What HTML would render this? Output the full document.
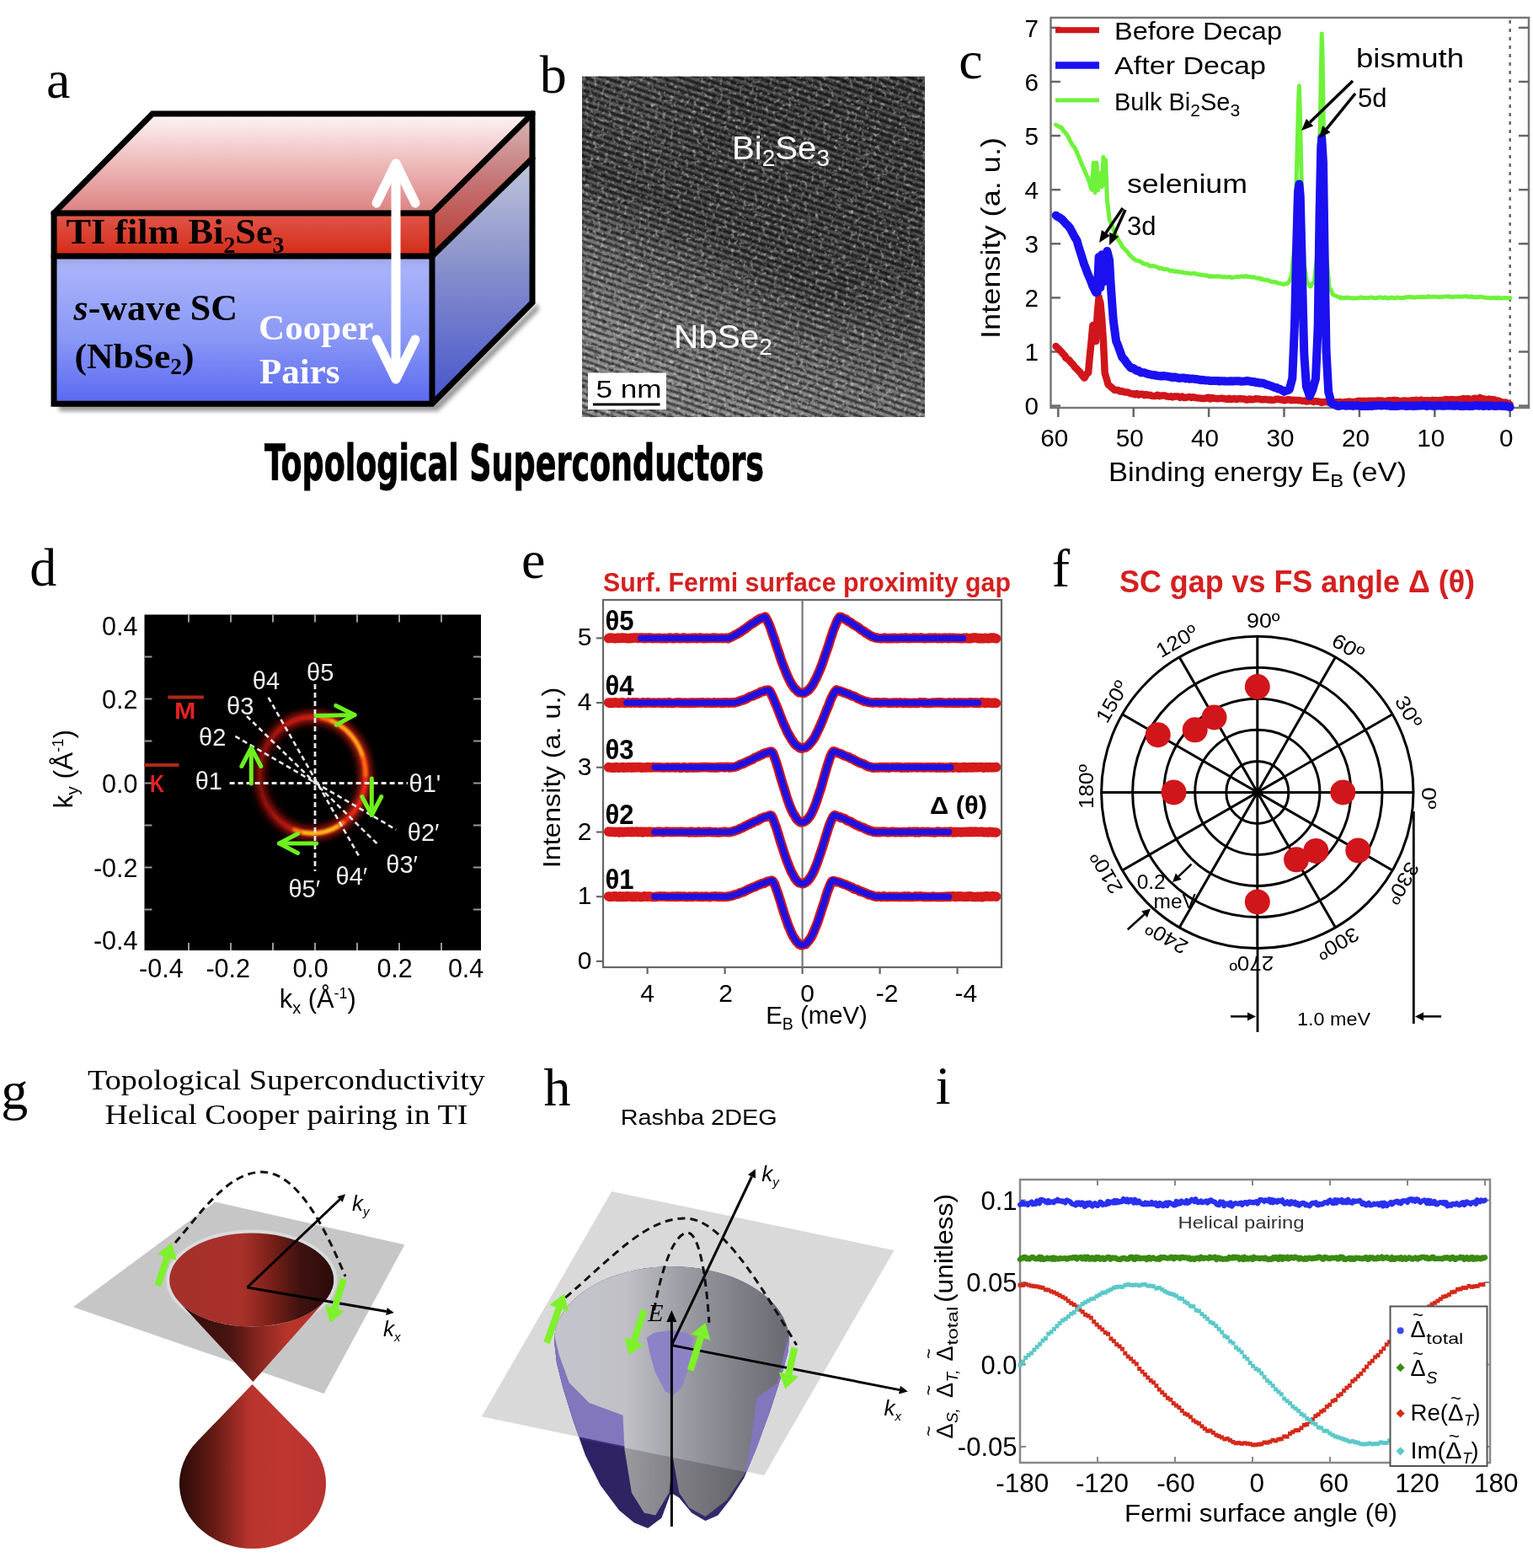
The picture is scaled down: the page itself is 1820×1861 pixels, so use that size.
<!DOCTYPE html>
<html><head><meta charset="utf-8"><title>Topological superconductivity figure</title>
<style>html,body{margin:0;padding:0;background:#fff;overflow:hidden;} svg{display:block;}</style></head>
<body><svg width="1820" height="1861" viewBox="0 0 1820 1861"><defs><linearGradient id="aTop" x1="0" y1="135" x2="0" y2="253" gradientUnits="userSpaceOnUse"><stop offset="0" stop-color="#fdf6f6"/><stop offset="0.35" stop-color="#f3cccc"/><stop offset="1" stop-color="#dc8080"/></linearGradient>
<linearGradient id="aRedF" x1="0" y1="253" x2="0" y2="304" gradientUnits="userSpaceOnUse"><stop offset="0" stop-color="#e0574a"/><stop offset="1" stop-color="#d42a18"/></linearGradient>
<linearGradient id="aRedS" x1="0" y1="140" x2="0" y2="300" gradientUnits="userSpaceOnUse"><stop offset="0" stop-color="#d8b4b4"/><stop offset="0.5" stop-color="#c47070"/><stop offset="1" stop-color="#b83a30"/></linearGradient>
<linearGradient id="aBlueF" x1="0" y1="304" x2="0" y2="479" gradientUnits="userSpaceOnUse"><stop offset="0" stop-color="#a0a8e8"/><stop offset="0.1" stop-color="#a8b2fa"/><stop offset="0.55" stop-color="#8a98f6"/><stop offset="1" stop-color="#5a68f2"/></linearGradient>
<linearGradient id="aBlueS" x1="0" y1="190" x2="0" y2="470" gradientUnits="userSpaceOnUse"><stop offset="0" stop-color="#c0c6da"/><stop offset="0.45" stop-color="#8890cc"/><stop offset="1" stop-color="#4a58cc"/></linearGradient><filter id="aSh" x="-10%" y="-10%" width="120%" height="130%"><feGaussianBlur stdDeviation="2.5"/></filter><linearGradient id="bG" x1="975" y1="190" x2="835" y2="455" gradientUnits="userSpaceOnUse"><stop offset="0" stop-color="#383838"/><stop offset="0.45" stop-color="#3c3c3c"/><stop offset="0.72" stop-color="#666666"/><stop offset="1" stop-color="#808080"/></linearGradient>
<radialGradient id="bR" cx="1080" cy="490" r="170" gradientUnits="userSpaceOnUse"><stop offset="0" stop-color="#7a7a7a" stop-opacity="0.6"/><stop offset="1" stop-color="#8a8a8a" stop-opacity="0"/></radialGradient>
<radialGradient id="bD" cx="760" cy="110" r="110" gradientUnits="userSpaceOnUse"><stop offset="0" stop-color="#5a5a5a" stop-opacity="0.4"/><stop offset="1" stop-color="#6a6a6a" stop-opacity="0"/></radialGradient>
<pattern id="bS" width="60" height="7.4" patternUnits="userSpaceOnUse" patternTransform="rotate(19)"><rect width="60" height="3" fill="#000" fill-opacity="0.45"/><rect y="4" width="60" height="2" fill="#fff" fill-opacity="0.14"/></pattern>
<filter id="bNw" x="0" y="0" width="1" height="1"><feTurbulence type="fractalNoise" baseFrequency="0.22" numOctaves="2" seed="3"/><feColorMatrix type="matrix" values="0 0 0 0 1  0 0 0 0 1  0 0 0 0 1  2.6 0 0 0 -1.35"/></filter>
<filter id="bNb" x="0" y="0" width="1" height="1"><feTurbulence type="fractalNoise" baseFrequency="0.2" numOctaves="2" seed="8"/><feColorMatrix type="matrix" values="0 0 0 0 0  0 0 0 0 0  0 0 0 0 0  -2.6 0 0 0 1.25"/></filter>
<clipPath id="bC"><rect x="691" y="90.5" width="407" height="404.5"/></clipPath><filter id="dBlur" x="-50%" y="-50%" width="200%" height="200%"><feGaussianBlur stdDeviation="4"/></filter>
<filter id="dBlur2" x="-50%" y="-50%" width="200%" height="200%"><feGaussianBlur stdDeviation="1.6"/></filter><linearGradient id="dRing" x1="300" y1="0" x2="440" y2="0" gradientUnits="userSpaceOnUse"><stop offset="0" stop-color="#7a0c06"/><stop offset="0.35" stop-color="#c81810"/><stop offset="1" stop-color="#f02a18"/></linearGradient><linearGradient id="gIn" x1="201" y1="0" x2="396" y2="0" gradientUnits="userSpaceOnUse"><stop offset="0" stop-color="#a4302a"/><stop offset="0.45" stop-color="#a8312a"/><stop offset="0.62" stop-color="#7a2018"/><stop offset="0.8" stop-color="#3e1210"/><stop offset="1" stop-color="#2a0c0a"/></linearGradient>
<linearGradient id="gOut" x1="215" y1="0" x2="385" y2="0" gradientUnits="userSpaceOnUse"><stop offset="0" stop-color="#2e0c0a"/><stop offset="0.35" stop-color="#4a1512"/><stop offset="0.55" stop-color="#8a2620"/><stop offset="0.75" stop-color="#b8352c"/><stop offset="1" stop-color="#b43228"/></linearGradient>
<linearGradient id="gLow" x1="213" y1="0" x2="387" y2="0" gradientUnits="userSpaceOnUse"><stop offset="0" stop-color="#2a0a08"/><stop offset="0.25" stop-color="#6a1c16"/><stop offset="0.48" stop-color="#b8342c"/><stop offset="0.7" stop-color="#c03630"/><stop offset="1" stop-color="#b83230"/></linearGradient><clipPath id="hSil"><path d="M657.9,1591.3 L658.4,1584.4 L659.6,1577.5 L661.8,1570.7 L664.7,1564 L668.5,1557.5 L673.1,1551.3 L678.5,1545.2 L684.6,1539.5 L691.3,1534 L698.8,1529 L706.8,1524.3 L715.4,1520 L724.5,1516.1 L734.1,1512.8 L744,1509.9 L754.3,1507.5 L764.8,1505.6 L775.6,1504.2 L786.4,1503.4 L797.4,1503.1 L808.3,1503.4 L819.2,1504.2 L829.9,1505.6 L840.5,1507.5 L850.8,1509.9 L860.7,1512.8 L870.3,1516.1 L879.4,1520 L888,1524.3 L896,1529 L903.4,1534 L910.2,1539.5 L916.3,1545.2 L921.7,1551.3 L926.2,1557.5 L930,1564 L933,1570.7 L935.1,1577.5 L936.4,1584.4 L936.9,1591.3 L935.4,1605.5 L928,1632.2 L914.6,1673.8 L898.3,1718.3 L883.4,1753.9 L868.6,1777.6 L852.3,1798.4 L837.4,1804.9 L821.1,1795.4 L806.3,1777.6 L796.5,1771.7 L785.5,1801.4 L769.2,1813.8 L752.9,1807.3 L735.1,1792.5 L712.8,1762.8 L695,1727.2 L680.2,1685.6 L668.3,1647.1 L660.9,1617.4 Z"/></clipPath><linearGradient id="hInG" x1="660" y1="0" x2="935" y2="0" gradientUnits="userSpaceOnUse"><stop offset="0" stop-color="#c4c4cc"/><stop offset="0.3" stop-color="#c0c0c6"/><stop offset="0.55" stop-color="#9c9ca4"/><stop offset="0.8" stop-color="#7e7e86"/><stop offset="1" stop-color="#6a6a74"/></linearGradient>
<linearGradient id="hPurp" x1="660" y1="0" x2="935" y2="0" gradientUnits="userSpaceOnUse"><stop offset="0" stop-color="#3a2a7c"/><stop offset="0.5" stop-color="#3e2e80"/><stop offset="1" stop-color="#4a3a90"/></linearGradient></defs><polygon points="70,478 517,478 638,360 640,368 520,488 70,488" fill="#9a9a9a" filter="url(#aSh)"/>
<polygon points="64,253 181,135 632,135 513,253" fill="url(#aTop)" stroke="none" stroke-width="1" />
<polygon points="513,253 632,135 632,188 513,304" fill="url(#aRedS)" stroke="none" stroke-width="1" />
<polygon points="513,304 632,188 632,359 513,479.3" fill="url(#aBlueS)" stroke="none" stroke-width="1" />
<rect x="64" y="253" width="449" height="51" fill="url(#aRedF)"/>
<rect x="64" y="304" width="449" height="175.3" fill="url(#aBlueF)"/>
<polygon points="64,253 181,135 632,135 632,359 513,479.3 64,479.3" fill="none" stroke="#000" stroke-width="7" stroke-linejoin="miter"/>
<polyline points="64,253 513,253 632,135" fill="none" stroke="#000" stroke-width="7" stroke-linejoin="round" stroke-linecap="round" stroke-linecap="butt"/>
<polyline points="64,304 513,304 632,188" fill="none" stroke="#000" stroke-width="7" stroke-linejoin="round" stroke-linecap="round" stroke-linecap="butt"/>
<line x1="513" y1="253" x2="513" y2="479.3" stroke="#000" stroke-width="7" />
<g stroke="#fff" stroke-width="11" stroke-linecap="round" stroke-linejoin="round" fill="none"><line x1="470" y1="195" x2="470" y2="448"/><polyline points="447,241 470,194 493,241"/><polyline points="447,403 470,450 493,403"/></g>
<text x="78.5" y="289" font-family='"Liberation Serif", "DejaVu Serif", serif' font-size="43" fill="#000" font-weight="bold" text-anchor="start" textLength="259" lengthAdjust="spacingAndGlyphs" >TI film Bi<tspan font-size="27" dy="11">2</tspan><tspan dy="-11">Se</tspan><tspan font-size="27" dy="11">3</tspan></text>
<text x="87.5" y="380" font-family='"Liberation Serif", "DejaVu Serif", serif' font-size="44.5" fill="#000" font-weight="bold" text-anchor="start" textLength="194.5" lengthAdjust="spacingAndGlyphs" ><tspan font-style="italic">s</tspan>-wave SC</text>
<text x="88.5" y="437" font-family='"Liberation Serif", "DejaVu Serif", serif' font-size="43" fill="#000" font-weight="bold" text-anchor="start" textLength="142" lengthAdjust="spacingAndGlyphs" >(NbSe<tspan font-size="27" dy="7">2</tspan><tspan dy="-7">)</tspan></text>
<text x="307" y="403" font-family='"Liberation Serif", "DejaVu Serif", serif' font-size="43" fill="#fff" font-weight="bold" text-anchor="start" textLength="136.5" lengthAdjust="spacingAndGlyphs" >Cooper</text>
<text x="308" y="454.5" font-family='"Liberation Serif", "DejaVu Serif", serif' font-size="43" fill="#fff" font-weight="bold" text-anchor="start" textLength="95.6" lengthAdjust="spacingAndGlyphs" >Pairs</text>
<text x="55" y="116" font-family='"Liberation Serif", "DejaVu Serif", serif' font-size="64" fill="#000" font-weight="normal" text-anchor="start" >a</text>
<text x="314" y="570" font-family='"DejaVu Sans Condensed", "DejaVu Sans", sans-serif' font-stretch="condensed" font-size="58.5" font-weight="bold" textLength="593" lengthAdjust="spacingAndGlyphs" stroke="#000" stroke-width="0.8">Topological Superconductors</text>
<g clip-path="url(#bC)"><rect x="691" y="90.5" width="407" height="404.5" fill="url(#bG)"/><rect x="691" y="90.5" width="407" height="404.5" fill="url(#bR)"/><rect x="691" y="90.5" width="407" height="404.5" fill="url(#bD)"/><rect x="691" y="90.5" width="407" height="404.5" fill="url(#bS)"/><rect x="691" y="90.5" width="407" height="404.5" filter="url(#bNw)" opacity="0.55"/><rect x="691" y="90.5" width="407" height="404.5" filter="url(#bNb)" opacity="0.5"/></g>
<rect x="698" y="442.5" width="93" height="43.5" fill="#fff"/>
<text x="707.5" y="472.3" font-family='"Liberation Sans", "DejaVu Sans", sans-serif' font-size="30" fill="#000" font-weight="normal" text-anchor="start" textLength="78" lengthAdjust="spacingAndGlyphs" >5 nm</text>
<rect x="704" y="478.5" width="79.5" height="3" fill="#000"/>
<text x="869" y="189" font-family='"Liberation Sans", "DejaVu Sans", sans-serif' font-size="39" fill="#fff" font-weight="normal" text-anchor="start" textLength="116" lengthAdjust="spacingAndGlyphs" >Bi<tspan font-size="27" dy="8">2</tspan><tspan dy="-8">Se</tspan><tspan font-size="27" dy="8">3</tspan></text>
<text x="800" y="413" font-family='"Liberation Sans", "DejaVu Sans", sans-serif' font-size="39" fill="#fff" font-weight="normal" text-anchor="start" textLength="117" lengthAdjust="spacingAndGlyphs" >NbSe<tspan font-size="27" dy="8">2</tspan></text>
<text x="640.8" y="109.7" font-family='"Liberation Serif", "DejaVu Serif", serif' font-size="64" fill="#000" font-weight="normal" text-anchor="start" >b</text>
<rect x="1247.5" y="21" width="567.5" height="463" fill="none" stroke="#777" stroke-width="2.5"/>
<line x1="1792.7" y1="24" x2="1792.7" y2="482" stroke="#666" stroke-width="2.5" stroke-dasharray="4,6"/>
<line x1="1247.5" y1="481.6" x2="1259" y2="481.6" stroke="#666" stroke-width="2.5" />
<line x1="1803" y1="481.6" x2="1815" y2="481.6" stroke="#666" stroke-width="2.5" />
<text x="1233" y="492.4" font-family='"Liberation Sans", "DejaVu Sans", sans-serif' font-size="29.7" fill="#000" font-weight="normal" text-anchor="end" >0</text>
<line x1="1247.5" y1="417.5" x2="1259" y2="417.5" stroke="#666" stroke-width="2.5" />
<line x1="1803" y1="417.5" x2="1815" y2="417.5" stroke="#666" stroke-width="2.5" />
<text x="1233" y="428.3" font-family='"Liberation Sans", "DejaVu Sans", sans-serif' font-size="29.7" fill="#000" font-weight="normal" text-anchor="end" >1</text>
<line x1="1247.5" y1="353.4" x2="1259" y2="353.4" stroke="#666" stroke-width="2.5" />
<line x1="1803" y1="353.4" x2="1815" y2="353.4" stroke="#666" stroke-width="2.5" />
<text x="1233" y="364.2" font-family='"Liberation Sans", "DejaVu Sans", sans-serif' font-size="29.7" fill="#000" font-weight="normal" text-anchor="end" >2</text>
<line x1="1247.5" y1="289.3" x2="1259" y2="289.3" stroke="#666" stroke-width="2.5" />
<line x1="1803" y1="289.3" x2="1815" y2="289.3" stroke="#666" stroke-width="2.5" />
<text x="1233" y="300.1" font-family='"Liberation Sans", "DejaVu Sans", sans-serif' font-size="29.7" fill="#000" font-weight="normal" text-anchor="end" >3</text>
<line x1="1247.5" y1="225.2" x2="1259" y2="225.2" stroke="#666" stroke-width="2.5" />
<line x1="1803" y1="225.2" x2="1815" y2="225.2" stroke="#666" stroke-width="2.5" />
<text x="1233" y="236" font-family='"Liberation Sans", "DejaVu Sans", sans-serif' font-size="29.7" fill="#000" font-weight="normal" text-anchor="end" >4</text>
<line x1="1247.5" y1="161.1" x2="1259" y2="161.1" stroke="#666" stroke-width="2.5" />
<line x1="1803" y1="161.1" x2="1815" y2="161.1" stroke="#666" stroke-width="2.5" />
<text x="1233" y="171.9" font-family='"Liberation Sans", "DejaVu Sans", sans-serif' font-size="29.7" fill="#000" font-weight="normal" text-anchor="end" >5</text>
<line x1="1247.5" y1="97" x2="1259" y2="97" stroke="#666" stroke-width="2.5" />
<line x1="1803" y1="97" x2="1815" y2="97" stroke="#666" stroke-width="2.5" />
<text x="1233" y="107.8" font-family='"Liberation Sans", "DejaVu Sans", sans-serif' font-size="29.7" fill="#000" font-weight="normal" text-anchor="end" >6</text>
<line x1="1247.5" y1="32.9" x2="1259" y2="32.9" stroke="#666" stroke-width="2.5" />
<line x1="1803" y1="32.9" x2="1815" y2="32.9" stroke="#666" stroke-width="2.5" />
<text x="1233" y="43.7" font-family='"Liberation Sans", "DejaVu Sans", sans-serif' font-size="29.7" fill="#000" font-weight="normal" text-anchor="end" >7</text>
<line x1="1792.7" y1="484" x2="1792.7" y2="495" stroke="#666" stroke-width="2.5" />
<text x="1788.2" y="529.5" font-family='"Liberation Sans", "DejaVu Sans", sans-serif' font-size="29.7" fill="#000" font-weight="normal" text-anchor="middle" >0</text>
<line x1="1703.3" y1="484" x2="1703.3" y2="495" stroke="#666" stroke-width="2.5" />
<text x="1698.8" y="529.5" font-family='"Liberation Sans", "DejaVu Sans", sans-serif' font-size="29.7" fill="#000" font-weight="normal" text-anchor="middle" >10</text>
<line x1="1613.9" y1="484" x2="1613.9" y2="495" stroke="#666" stroke-width="2.5" />
<text x="1609.4" y="529.5" font-family='"Liberation Sans", "DejaVu Sans", sans-serif' font-size="29.7" fill="#000" font-weight="normal" text-anchor="middle" >20</text>
<line x1="1524.5" y1="484" x2="1524.5" y2="495" stroke="#666" stroke-width="2.5" />
<text x="1520" y="529.5" font-family='"Liberation Sans", "DejaVu Sans", sans-serif' font-size="29.7" fill="#000" font-weight="normal" text-anchor="middle" >30</text>
<line x1="1435.1" y1="484" x2="1435.1" y2="495" stroke="#666" stroke-width="2.5" />
<text x="1430.6" y="529.5" font-family='"Liberation Sans", "DejaVu Sans", sans-serif' font-size="29.7" fill="#000" font-weight="normal" text-anchor="middle" >40</text>
<line x1="1345.7" y1="484" x2="1345.7" y2="495" stroke="#666" stroke-width="2.5" />
<text x="1341.2" y="529.5" font-family='"Liberation Sans", "DejaVu Sans", sans-serif' font-size="29.7" fill="#000" font-weight="normal" text-anchor="middle" >50</text>
<line x1="1256.3" y1="484" x2="1256.3" y2="495" stroke="#666" stroke-width="2.5" />
<text x="1251.8" y="529.5" font-family='"Liberation Sans", "DejaVu Sans", sans-serif' font-size="29.7" fill="#000" font-weight="normal" text-anchor="middle" >60</text>
<text x="1316" y="570.7" font-family='"Liberation Sans", "DejaVu Sans", sans-serif' font-size="32" fill="#000" font-weight="normal" text-anchor="start" textLength="354" lengthAdjust="spacingAndGlyphs" >Binding energy E<tspan font-size="22" dy="7">B</tspan><tspan dy="-7"> (eV)</tspan></text>
<text transform="translate(1187,402) rotate(-90)" font-family='"Liberation Sans", sans-serif' font-size="31" textLength="239" lengthAdjust="spacingAndGlyphs">Intensity (a. u.)</text>
<text x="1138.3" y="93" font-family='"Liberation Serif", "DejaVu Serif", serif' font-size="64" fill="#000" font-weight="normal" text-anchor="start" >c</text>
<g>
<polyline points="1253.6,410.9 1255.9,413.2 1258.1,415.6 1260.3,417.8 1262.6,420.6 1264.8,422.8 1265.2,424.6 1267,425.8 1269.3,427.5 1271.5,430.3 1273.7,432.2 1276,435.8 1278.2,437.6 1278.7,438.4 1280.4,440 1282.7,442.5 1284.9,445.9 1287.1,448.2 1287.6,448.6 1289.4,445.1 1291.6,442.1 1292.1,442.4 1293.8,422.8 1295.6,405.2 1296.1,399.7 1297.4,386 1298.3,387.8 1299.2,388.1 1300.6,401.1 1301,405.1 1302.8,371.9 1304.6,352.8 1305,355.3 1306.4,359.1 1307.3,369.4 1308.2,378.8 1309.5,398.7 1309.9,404 1311.7,442.8 1314,450.4 1315.3,455.4 1316.2,457 1318.4,458.7 1320.7,460.7 1322.9,462.6 1323.4,463 1325.1,463.1 1327.4,463.1 1329.6,464.6 1331.8,464 1334.1,465.1 1336.3,465.6 1338.5,465.4 1340.8,466.4 1343,467.2 1345.3,467.4 1345.7,467.2 1347.5,468.3 1349.7,467.1 1352,468.7 1354.2,467.7 1356.4,467.7 1358.7,469.2 1360.9,468.1 1363.1,469 1365.4,468.8 1367.6,469.8 1369.8,469.9 1372.1,469.9 1374.3,468.8 1376.5,470.2 1378.8,469.5 1381,469.4 1383.2,469.5 1385.5,470.6 1387.7,470.7 1390,470.6 1390.4,470.3 1392.2,471.4 1394.4,470.5 1396.7,470.5 1398.9,470.5 1401.1,471.9 1403.4,470.6 1405.6,472 1407.8,471.7 1410.1,471.4 1412.3,471 1414.5,472 1416.8,471.2 1419,471.9 1421.2,472.3 1423.5,472.4 1425.7,472.7 1427.9,473 1430.2,473 1432.4,472.2 1434.7,471.8 1435.1,473.1 1436.9,473.4 1439.1,472 1441.4,472.8 1443.6,473 1445.8,473.3 1448.1,472.9 1450.3,472.6 1452.5,473.2 1454.8,473.3 1457,473.9 1459.2,472.7 1461.5,474.1 1463.7,473.5 1465.9,473 1468.2,474.1 1470.4,473.3 1472.6,473 1474.9,473.6 1477.1,473.4 1479.4,474.5 1479.8,474 1481.6,474.5 1483.8,473.4 1486.1,474.3 1488.3,474.1 1490.5,473.3 1492.8,473.6 1495,473.4 1497.2,474.2 1499.5,474.2 1501.7,473.9 1503.9,474.3 1506.2,474.6 1508.4,474.5 1510.6,474.9 1512.9,474.6 1515.1,473.7 1517.3,473.7 1519.6,474.3 1521.8,474.5 1524.1,474.8 1524.5,475.2 1526.3,475 1528.5,474.3 1530.8,474.3 1533,475.2 1535.2,474.7 1537.5,474.9 1539.7,475.1 1541.9,475.3 1544.2,475.3 1546.4,476 1548.6,475.6 1550.9,476.4 1553.1,476.2 1555.3,475.9 1557.6,476.2 1559.8,476.9 1562,476 1564.3,476.6 1566.5,476.8 1568.8,477.8 1569.2,477 1571,477.5 1573.2,476.9 1575.5,477.3 1577.7,476.8 1579.9,477.1 1582.2,477 1584.4,477.7 1586.6,477.3 1588.9,477.2 1591.1,477.1 1593.3,477.9 1595.6,477.2 1596,477.2 1597.8,477.3 1600,476.7 1602.3,476.6 1604.5,477.1 1606.7,476.9 1609,477.3 1611.2,476.1 1613.5,475.8 1613.9,476.5 1615.7,476.1 1617.9,476 1620.2,475.9 1622.4,476.7 1624.6,475.7 1626.9,476 1629.1,475.8 1631.3,476.1 1633.6,475.7 1635.8,475.4 1638,475.6 1640.3,475.4 1642.5,476.4 1644.7,476.1 1647,475.6 1649.2,475.2 1651.4,475.8 1653.7,475 1655.9,475.1 1658.2,475.9 1658.6,475.2 1660.4,475.6 1662.6,475.9 1664.9,475.8 1667.1,475.5 1669.3,475.7 1671.6,475.7 1673.8,475.9 1676,475.2 1678.3,475.4 1680.5,475 1682.7,475.1 1685,475.6 1687.2,474.6 1689.4,476 1691.7,475.3 1693.9,475.5 1696.1,475.3 1698.4,475.8 1700.6,474.7 1702.9,475.4 1703.3,475.9 1705.1,475 1707.3,475.7 1709.6,474.9 1711.8,475.1 1714,474.7 1716.3,474 1718.5,474.2 1720.7,474.7 1723,474 1725.2,474.2 1727.4,474.5 1729.7,474.8 1731.9,474 1734.1,474 1736.4,473.3 1738.6,473.2 1739.1,473.7 1740.8,474 1743.1,473 1745.3,474.2 1747.6,473.9 1749.8,473 1752,472.8 1754.3,473.4 1756.5,472.5 1756.9,472 1758.7,473.1 1761,473.3 1763.2,473.9 1765.4,474.2 1767.7,473.4 1769.9,474.7 1772.1,474.1 1774.4,474.5 1774.8,475 1776.6,476 1778.8,475.4 1781.1,476.7 1783.3,477.3 1785.5,478 1787.8,477.5 1788.2,478.4 1790,479.2 1792.3,479.6 1792.7,480.3" fill="none" stroke="#d0161a" stroke-width="8.5" stroke-linejoin="round" stroke-linecap="round" />
<polyline points="1253.6,148.1 1255.9,149.5 1258.1,150.8 1259.9,151.1 1260.3,151.6 1262.6,155.3 1264.8,157.3 1265.2,158.2 1267,160.4 1269.3,164.5 1269.7,165.9 1271.5,168.9 1273.7,172.8 1276,175.4 1277.8,179.3 1278.2,180 1280.4,185.6 1282.7,190.8 1284.9,196.2 1287.1,201.1 1289.4,206.9 1291.6,211 1292.1,212.6 1293.8,218.1 1295.6,224.1 1296.1,224.8 1296.5,225.2 1298.3,193.2 1300.1,228.6 1300.6,219.3 1301.9,193 1302.8,209.8 1303.7,225.5 1305,210.8 1305.5,205.4 1307.3,216.2 1308.2,221.9 1309.5,196.2 1309.9,186.4 1310.8,218.9 1311.7,204.3 1312.6,189.7 1314,225.8 1314.4,238 1316.2,252.4 1317.1,260.6 1318.4,264 1320.7,269.2 1322.9,275.7 1323.4,276.7 1325.1,279.3 1327.4,284.2 1329.6,287.3 1331.8,291.5 1332.3,292.6 1334.1,294.7 1336.3,296.6 1338.5,298.9 1340.8,302.3 1343,304.3 1345.3,306.7 1345.7,307.3 1347.5,308.2 1349.7,309.4 1352,309.8 1354.2,310.5 1356.4,312.4 1358.7,313.2 1360.9,313.4 1363.1,314.4 1363.6,314.7 1365.4,316 1367.6,315.6 1369.8,315.8 1372.1,316.3 1374.3,317.2 1376.5,318.6 1378.8,318.1 1381,319.5 1383.2,319.5 1385.5,319.6 1387.7,320.4 1390,321.7 1390.4,321.6 1392.2,321 1394.4,322.3 1396.7,322 1398.9,322.5 1401.1,323.1 1403.4,322.7 1405.6,323.8 1407.8,323.9 1410.1,323.9 1412.3,324.5 1414.5,324.8 1416.8,324.4 1417.2,324.2 1419,324.4 1421.2,325.7 1423.5,325.8 1425.7,326.3 1427.9,326.3 1430.2,326.9 1432.4,326.7 1434.7,327.8 1435.1,328.3 1436.9,327.6 1439.1,328.4 1441.4,327.9 1443.6,328.2 1445.8,327.7 1448.1,328.3 1450.3,328.3 1452.5,328.9 1454.8,328.6 1457,329.1 1459.2,328.6 1461.5,329 1461.9,329.5 1463.7,329.3 1465.9,328.9 1468.2,328.3 1470.4,328.8 1472.6,328 1474.9,327.9 1477.1,328.5 1479.4,327.6 1479.8,328.3 1481.6,328.6 1483.8,328.4 1486.1,329.2 1488.3,328.8 1490.5,329.7 1492.8,330.3 1495,330.1 1497.2,331.5 1497.7,330.7 1499.5,332 1501.7,332.4 1503.9,332 1506.2,332.9 1508.4,334 1510.6,334.7 1512.9,334.2 1515.1,335.1 1515.6,335 1517.3,336.3 1519.6,336.2 1521.8,337 1524.1,337.6 1524.5,337.6 1526.3,336.7 1528.5,336.4 1529,336.2 1530.8,333.2 1533,328.2 1533.4,327.6 1535.2,308.1 1537,289.4 1537.5,272.8 1539.7,193.1 1541.5,122.5 1541.9,112.3 1542.4,101.8 1543.3,129.2 1544.2,170.2 1546,251.4 1546.4,261.9 1548.6,315.5 1550.9,330.5 1551.3,334.2 1553.1,336.1 1555.3,340 1555.8,340 1557.6,337.1 1559.8,334.6 1560.3,334.3 1562,318.2 1563.8,302.6 1564.3,284.4 1566.5,193.6 1568.3,84.3 1568.8,62.5 1569.2,40.1 1570.1,65.4 1571,126.2 1571.9,187 1573.2,244.9 1574.6,302.4 1575.5,312.1 1577.7,335.8 1578.1,341.2 1579.9,343.9 1582.2,349.4 1582.6,349.6 1584.4,350.6 1586.6,351.4 1588.9,352.5 1591.1,352.7 1591.6,353.9 1593.3,353.2 1595.6,353.7 1597.8,353.2 1600,353.1 1602.3,353.8 1604.5,353.8 1606.7,354 1609,353.7 1611.2,353.9 1613.5,353.5 1615.7,352.8 1617.9,353.6 1620.2,353.6 1622.4,353.4 1624.6,353.7 1626.9,353.1 1629.1,353.1 1631.3,353.8 1633.6,353.7 1635.8,353.2 1638,352.8 1640.3,353.2 1642.5,353.5 1644.7,352.8 1647,354 1649.2,354 1651.4,353 1653.7,353.5 1655.9,354 1658.2,353.3 1658.6,352.8 1660.4,353.3 1662.6,353.4 1664.9,353.6 1667.1,353.5 1669.3,352.4 1671.6,352.8 1673.8,352.1 1676,353.1 1678.3,352.8 1680.5,352.9 1682.7,352.4 1685,352.7 1685.4,352.4 1687.2,352.2 1689.4,352.4 1691.7,352.7 1693.9,352.7 1696.1,351.5 1698.4,352.5 1700.6,352.1 1702.9,352.2 1705.1,352.1 1707.3,352.7 1709.6,352.4 1711.8,352.6 1714,352.1 1716.3,351.6 1718.5,352 1720.7,351.7 1723,352.5 1725.2,352.7 1727.4,352.1 1729.7,352.1 1731.9,352 1734.1,352.3 1736.4,352 1738.6,351.8 1740.8,351.6 1743.1,352.4 1745.3,352.2 1747.6,351.7 1748,352.5 1749.8,352.7 1752,352.6 1754.3,352.9 1756.5,352.2 1758.7,352.2 1761,353 1763.2,353.3 1765.4,353.5 1767.7,353.4 1769.9,353.7 1772.1,353.4 1774.4,353.3 1774.8,353.7 1776.6,354 1778.8,353.1 1781.1,354 1783.3,353.8 1785.5,353.7 1787.8,353.6 1790,353.9 1792.3,353.5 1792.7,353.6" fill="none" stroke="#6ef23a" stroke-width="5" stroke-linejoin="round" stroke-linecap="round" />
<polyline points="1253.6,255.7 1255.9,257.3 1258.1,258.4 1260.3,260 1260.8,260.2 1262.6,262.3 1264.8,264.8 1267,266.9 1269.3,269.4 1269.7,269.6 1271.5,273 1273.7,277.1 1276,281.5 1278.2,285 1278.7,286.2 1280.4,292.2 1282.7,299.5 1284.9,306.6 1287.1,313.7 1287.6,314.8 1289.4,319.6 1291.6,325.5 1293.8,330.4 1296.1,336.2 1296.5,337.9 1298.3,341.7 1300.6,346.4 1301,347.1 1302.8,346.6 1304.6,304.9 1305,314 1306.4,340.9 1307.3,321.4 1308.2,302.3 1309.5,326.3 1309.9,334.7 1311.7,329.8 1312.6,327.4 1314,304.9 1314.4,298 1316.2,304.9 1317.1,308.9 1318.4,332.4 1318.9,340.6 1320.7,365.8 1321.6,378.7 1322.9,389 1325.1,404.9 1327.4,410.3 1329.6,416.7 1331.8,422.8 1332.3,424 1334.1,425.9 1336.3,428.7 1338.5,432 1340.8,434.4 1341.2,435.3 1343,436.7 1345.3,437 1347.5,438.5 1349.7,440 1352,440.1 1354.2,442.1 1354.6,441.8 1356.4,442.3 1358.7,442.3 1360.9,443.3 1363.1,444 1365.4,444.4 1367.6,445 1369.8,445.1 1372.1,445.8 1372.5,445.4 1374.3,446.1 1376.5,446.2 1378.8,446.6 1381,446 1383.2,446.4 1385.5,446.6 1387.7,447 1390,447.5 1392.2,448 1394.4,447.5 1396.7,448 1398.9,448.7 1399.3,448.6 1401.1,448.9 1403.4,448.4 1405.6,448.5 1407.8,449.4 1410.1,449 1412.3,449.7 1414.5,449.5 1416.8,449.6 1419,450 1421.2,450.1 1423.5,450.7 1425.7,451.3 1426.2,450.8 1427.9,450.9 1430.2,451.4 1432.4,451.4 1434.7,451.6 1436.9,452.1 1439.1,452 1441.4,452 1443.6,452.1 1445.8,452 1448.1,452.5 1450.3,452.1 1452.5,452.4 1453,452.3 1454.8,452.5 1457,452.5 1459.2,452.6 1461.5,452.2 1463.7,452.6 1465.9,452.3 1468.2,452.2 1470.4,452.3 1472.6,452.5 1474.9,452.7 1477.1,452.6 1479.4,452.3 1479.8,452 1481.6,452.1 1483.8,452.5 1486.1,453.2 1488.3,452.9 1490.5,453.9 1492.8,453.8 1495,454.7 1497.2,454.4 1497.7,454.5 1499.5,454.8 1501.7,455.6 1503.9,456.5 1506.2,457.1 1508.4,457.9 1510.6,458.7 1512.9,459.9 1515.1,460.3 1515.6,460 1517.3,461.5 1519.6,461.7 1521.8,463.1 1524.1,464.2 1524.5,464.8 1526.3,463.9 1528.5,463.4 1530.8,462.2 1533,453.9 1534.3,449.1 1535.2,428.1 1537,385.6 1537.5,366.6 1539.3,289.1 1539.7,274 1541,228.2 1541.9,222.1 1542.4,218.4 1543.7,231.9 1544.2,251 1546,328 1546.4,345.6 1548.2,417.1 1548.6,424.8 1550.9,459 1553.1,464.9 1554.9,470.3 1555.3,469.5 1557.6,464.2 1558.5,462 1559.8,457.2 1562,449.3 1564.3,396.2 1564.7,385.5 1566.5,257.2 1568.3,173.5 1568.8,168.7 1569.2,163.2 1571,193 1572.8,314.5 1573.2,340.9 1574.6,418 1575.5,433.9 1577.2,465.5 1577.7,467.1 1579.9,475.5 1580.8,478.7 1582.2,479 1584.4,480.1 1586.6,481.2 1587.1,481.4 1588.9,482 1591.1,481.6 1593.3,481.3 1595.6,481.1 1597.8,481.8 1600,481.2 1602.3,481.5 1604.5,481.2 1606.7,481.9 1609,481.4 1611.2,481.3 1613.5,481.6 1615.7,482 1617.9,481.9 1620.2,482 1622.4,482 1624.6,482 1626.9,481.5 1629.1,482 1631.3,481.3 1633.6,481.4 1635.8,481.3 1638,481.3 1640.3,481.4 1642.5,481.2 1644.7,481.1 1647,481.5 1649.2,481.1 1651.4,482 1653.7,482 1655.9,482 1658.2,481.9 1660.4,481.7 1662.6,481.6 1664.9,481.4 1667.1,481.4 1669.3,482 1671.6,481.7 1673.8,481.6 1676,481.7 1678.3,482 1680.5,481.5 1682.7,481.7 1685,481.4 1687.2,481.6 1689.4,481.1 1691.7,481.1 1693.9,482 1696.1,481.3 1698.4,481.4 1700.6,481.8 1702.9,482 1703.3,481.6 1705.1,481.7 1707.3,481.4 1709.6,481.2 1711.8,481.7 1714,481.8 1716.3,481.6 1718.5,481.4 1720.7,481.3 1723,481.5 1725.2,481.8 1727.4,481.8 1729.7,481.2 1731.9,481.6 1734.1,482.1 1736.4,481.7 1738.6,481.9 1740.8,481.4 1743.1,482 1745.3,481.8 1747.6,482 1749.8,481.6 1752,481.1 1754.3,481.6 1756.5,481.7 1758.7,481.2 1761,482 1763.2,481.7 1765.4,481.3 1767.7,482.1 1769.9,481.3 1772.1,481.7 1774.4,482.1 1776.6,481.9 1778.8,481.6 1781.1,481.7 1783.3,481.6 1783.8,482.1 1785.5,482.1 1787.8,481.7 1790,482.6 1792.3,482.8 1792.7,483.3" fill="none" stroke="#1a10f0" stroke-width="10" stroke-linejoin="round" stroke-linecap="round" />
</g>
<line x1="1253" y1="35.8" x2="1305" y2="35.8" stroke="#d0161a" stroke-width="7" />
<line x1="1253" y1="77.4" x2="1305" y2="77.4" stroke="#1a10f0" stroke-width="8.5" />
<line x1="1253" y1="119" x2="1305" y2="119" stroke="#6ef23a" stroke-width="5" />
<text x="1323" y="47" font-family='"Liberation Sans", "DejaVu Sans", sans-serif' font-size="29" fill="#000" font-weight="normal" text-anchor="start" textLength="199" lengthAdjust="spacingAndGlyphs" >Before Decap</text>
<text x="1323" y="88" font-family='"Liberation Sans", "DejaVu Sans", sans-serif' font-size="29" fill="#000" font-weight="normal" text-anchor="start" textLength="180" lengthAdjust="spacingAndGlyphs" >After Decap</text>
<text x="1323" y="130.5" font-family='"Liberation Sans", "DejaVu Sans", sans-serif' font-size="29" fill="#000" font-weight="normal" text-anchor="start" >Bulk Bi<tspan font-size="21" dy="7">2</tspan><tspan dy="-7">Se</tspan><tspan font-size="21" dy="7">3</tspan></text>
<text x="1610" y="80" font-family='"Liberation Sans", "DejaVu Sans", sans-serif' font-size="31" fill="#000" font-weight="normal" text-anchor="start" textLength="128" lengthAdjust="spacingAndGlyphs" >bismuth</text>
<text x="1612" y="127" font-family='"Liberation Sans", "DejaVu Sans", sans-serif' font-size="31" fill="#000" font-weight="normal" text-anchor="start" >5d</text>
<text x="1338" y="229" font-family='"Liberation Sans", "DejaVu Sans", sans-serif' font-size="31" fill="#000" font-weight="normal" text-anchor="start" textLength="143" lengthAdjust="spacingAndGlyphs" >selenium</text>
<text x="1338" y="279" font-family='"Liberation Sans", "DejaVu Sans", sans-serif' font-size="31" fill="#000" font-weight="normal" text-anchor="start" >3d</text>
<line x1="1606" y1="96" x2="1555.1" y2="145.3" stroke="#000" stroke-width="3.5" />
<polygon points="1545,155 1550.9,141 1559.2,149.6" fill="#000" stroke="none" stroke-width="1" />
<line x1="1609" y1="111" x2="1574.8" y2="153.1" stroke="#000" stroke-width="3.5" />
<polygon points="1566,164 1570.2,149.3 1579.5,156.9" fill="#000" stroke="none" stroke-width="1" />
<line x1="1333" y1="247" x2="1312.9" y2="276.4" stroke="#000" stroke-width="3.5" />
<polygon points="1305,288 1307.9,273.1 1317.9,279.8" fill="#000" stroke="none" stroke-width="1" />
<line x1="1336" y1="249" x2="1322.8" y2="278.2" stroke="#000" stroke-width="3.5" />
<polygon points="1317,291 1317.3,275.8 1328.2,280.7" fill="#000" stroke="none" stroke-width="1" />
<rect x="171.5" y="729.5" width="399.5" height="398.5" fill="#000"/>
<ellipse cx="371" cy="920" rx="63" ry="69" fill="none" stroke="url(#dRing)" stroke-width="14" stroke-opacity="0.75" filter="url(#dBlur)"/>
<ellipse cx="371" cy="920" rx="63" ry="69" fill="none" stroke="url(#dRing)" stroke-width="5" filter="url(#dBlur2)"/>
<polyline points="381.9,852 384.8,852.7 387.7,853.5 390.5,854.4 393.2,855.4 396,856.6 398.6,858 401.2,859.5 403.8,861.1 406.2,862.8 408.6,864.7 410.9,866.6 413.2,868.7 415.3,870.9 417.3,873.2 419.3,875.6 421.1,878.2 422.8,880.8 424.4,883.4 425.9,886.2 427.3,889 428.6,891.9 429.7,894.9 430.7,897.9 431.6,901 432.3,904.1 432.9,907.2 433.4,910.4 433.7,913.6 433.9,916.8 434,920" fill="none" stroke="#ff7010" stroke-width="4.5" stroke-linecap="round" filter="url(#dBlur2)"/>
<polyline points="392.5,855.2 394.3,855.9 396,856.6 397.6,857.5 399.3,858.3 400.9,859.3 402.5,860.2 404.1,861.3 405.6,862.4 407.1,863.5 408.6,864.7 410.1,865.9 411.5,867.1 412.9,868.5 414.2,869.8 415.5,871.2 416.8,872.6 418.1,874.1 419.3,875.6 420.4,877.2 421.5,878.8 422.6,880.4 423.6,882.1 424.6,883.8 425.6,885.5 426.5,887.3 427.3,889 428.1,890.8 428.8,892.7 429.5,894.5 430.2,896.4" fill="none" stroke="#f0d020" stroke-width="2.5" stroke-linecap="round" filter="url(#dBlur2)"/>
<polyline points="407.1,976.5 405.5,977.8 403.8,978.9 402,980.1 400.3,981.1 398.5,982.1 396.6,983 394.8,983.9 392.9,984.7 391,985.4 389.1,986.1 387.1,986.7 385.2,987.2 383.2,987.7 381.2,988.1 379.2,988.4 377.2,988.7 375.2,988.8 373.2,989 371.2,989 369.2,989 367.2,988.9 365.1,988.7 363.1,988.5 361.1,988.2 359.2,987.8 357.2,987.3 355.2,986.8 353.3,986.2 351.4,985.6 349.5,984.8" fill="none" stroke="#ff8010" stroke-width="5" stroke-linecap="round" filter="url(#dBlur2)"/>
<polyline points="400.6,980.9 399.3,981.6 398.1,982.3 396.8,982.9 395.5,983.5 394.3,984.1 393,984.7 391.6,985.2 390.3,985.7 389,986.1 387.7,986.5 386.3,986.9 385,987.3 383.6,987.6 382.2,987.9 380.9,988.2 379.5,988.4 378.1,988.6 376.7,988.7 375.3,988.8 373.9,988.9 372.5,989 371.1,989 369.8,989 368.4,988.9 367,988.9 365.6,988.7 364.2,988.6 362.8,988.4 361.4,988.2 360.1,988" fill="none" stroke="#f0e020" stroke-width="2.8" stroke-linecap="round" filter="url(#dBlur2)"/>
<line x1="224" y1="729.5" x2="224" y2="738.5" stroke="#999" stroke-width="2" />
<line x1="224" y1="1119" x2="224" y2="1128" stroke="#999" stroke-width="2" />
<line x1="171.5" y1="1079.5" x2="180.5" y2="1079.5" stroke="#999" stroke-width="2" />
<line x1="562" y1="1079.5" x2="571" y2="1079.5" stroke="#999" stroke-width="2" />
<line x1="274" y1="729.5" x2="274" y2="738.5" stroke="#999" stroke-width="2" />
<line x1="274" y1="1119" x2="274" y2="1128" stroke="#999" stroke-width="2" />
<line x1="171.5" y1="1029.5" x2="180.5" y2="1029.5" stroke="#999" stroke-width="2" />
<line x1="562" y1="1029.5" x2="571" y2="1029.5" stroke="#999" stroke-width="2" />
<line x1="324" y1="729.5" x2="324" y2="738.5" stroke="#999" stroke-width="2" />
<line x1="324" y1="1119" x2="324" y2="1128" stroke="#999" stroke-width="2" />
<line x1="171.5" y1="979.5" x2="180.5" y2="979.5" stroke="#999" stroke-width="2" />
<line x1="562" y1="979.5" x2="571" y2="979.5" stroke="#999" stroke-width="2" />
<line x1="374" y1="729.5" x2="374" y2="738.5" stroke="#999" stroke-width="2" />
<line x1="374" y1="1119" x2="374" y2="1128" stroke="#999" stroke-width="2" />
<line x1="171.5" y1="929.5" x2="180.5" y2="929.5" stroke="#999" stroke-width="2" />
<line x1="562" y1="929.5" x2="571" y2="929.5" stroke="#999" stroke-width="2" />
<line x1="424" y1="729.5" x2="424" y2="738.5" stroke="#999" stroke-width="2" />
<line x1="424" y1="1119" x2="424" y2="1128" stroke="#999" stroke-width="2" />
<line x1="171.5" y1="879.5" x2="180.5" y2="879.5" stroke="#999" stroke-width="2" />
<line x1="562" y1="879.5" x2="571" y2="879.5" stroke="#999" stroke-width="2" />
<line x1="474" y1="729.5" x2="474" y2="738.5" stroke="#999" stroke-width="2" />
<line x1="474" y1="1119" x2="474" y2="1128" stroke="#999" stroke-width="2" />
<line x1="171.5" y1="829.5" x2="180.5" y2="829.5" stroke="#999" stroke-width="2" />
<line x1="562" y1="829.5" x2="571" y2="829.5" stroke="#999" stroke-width="2" />
<line x1="524" y1="729.5" x2="524" y2="738.5" stroke="#999" stroke-width="2" />
<line x1="524" y1="1119" x2="524" y2="1128" stroke="#999" stroke-width="2" />
<line x1="171.5" y1="779.5" x2="180.5" y2="779.5" stroke="#999" stroke-width="2" />
<line x1="562" y1="779.5" x2="571" y2="779.5" stroke="#999" stroke-width="2" />
<text x="163.5" y="754" font-family='"Liberation Sans", "DejaVu Sans", sans-serif' font-size="30.5" fill="#000" font-weight="normal" text-anchor="end" >0.4</text>
<text x="163.5" y="840.5" font-family='"Liberation Sans", "DejaVu Sans", sans-serif' font-size="30.5" fill="#000" font-weight="normal" text-anchor="end" >0.2</text>
<text x="163.5" y="940.5" font-family='"Liberation Sans", "DejaVu Sans", sans-serif' font-size="30.5" fill="#000" font-weight="normal" text-anchor="end" >0.0</text>
<text x="163.5" y="1040.5" font-family='"Liberation Sans", "DejaVu Sans", sans-serif' font-size="30.5" fill="#000" font-weight="normal" text-anchor="end" >-0.2</text>
<text x="163.5" y="1126.5" font-family='"Liberation Sans", "DejaVu Sans", sans-serif' font-size="30.5" fill="#000" font-weight="normal" text-anchor="end" >-0.4</text>
<text x="165.1" y="1160" font-family='"Liberation Sans", "DejaVu Sans", sans-serif' font-size="30.5" fill="#000" font-weight="normal" text-anchor="start" >-0.4</text>
<text x="270.7" y="1160" font-family='"Liberation Sans", "DejaVu Sans", sans-serif' font-size="30.5" fill="#000" font-weight="normal" text-anchor="middle" >-0.2</text>
<text x="368.6" y="1160" font-family='"Liberation Sans", "DejaVu Sans", sans-serif' font-size="30.5" fill="#000" font-weight="normal" text-anchor="middle" >0.0</text>
<text x="468.6" y="1160" font-family='"Liberation Sans", "DejaVu Sans", sans-serif' font-size="30.5" fill="#000" font-weight="normal" text-anchor="middle" >0.2</text>
<text x="574.3" y="1160" font-family='"Liberation Sans", "DejaVu Sans", sans-serif' font-size="30.5" fill="#000" font-weight="normal" text-anchor="end" >0.4</text>
<text x="331.8" y="1195.5" font-family='"Liberation Sans", "DejaVu Sans", sans-serif' font-size="31" fill="#000" font-weight="normal" text-anchor="start" textLength="91" lengthAdjust="spacingAndGlyphs" >k<tspan font-size="20" dy="7">x</tspan><tspan dy="-7"> (Å</tspan><tspan font-size="18" dy="-11">-1</tspan><tspan dy="11">)</tspan></text>
<text transform="translate(85.5,959.4) rotate(-90)" font-family='"Liberation Sans", sans-serif' font-size="31" textLength="93.6" lengthAdjust="spacingAndGlyphs">k<tspan font-size="20" dy="7">y</tspan><tspan dy="-7"> (Å</tspan><tspan font-size="18" dy="-11">-1</tspan><tspan dy="11">)</tspan></text>
<text x="35.2" y="695" font-family='"Liberation Serif", "DejaVu Serif", serif' font-size="64" fill="#000" font-weight="normal" text-anchor="start" >d</text>
<line x1="199.3" y1="827.4" x2="241.9" y2="827.4" stroke="#b02818" stroke-width="4" />
<text x="206.9" y="853.4" font-family='"Liberation Sans", "DejaVu Sans", sans-serif' font-size="27" fill="#e42222" font-weight="bold" text-anchor="start" textLength="25.4" lengthAdjust="spacingAndGlyphs" >M</text>
<line x1="171" y1="908" x2="212.5" y2="908" stroke="#b02818" stroke-width="4" />
<text x="178" y="940.4" font-family='"Liberation Sans", "DejaVu Sans", sans-serif' font-size="29" fill="#e42222" font-weight="bold" text-anchor="start" textLength="17" lengthAdjust="spacingAndGlyphs" >K</text>
<line x1="272.6" y1="929.5" x2="484" y2="929.5" stroke="#e8e8e8" stroke-width="2.8" stroke-dasharray="6,4"/>
<line x1="374" y1="812" x2="374" y2="1034" stroke="#e8e8e8" stroke-width="2.8" stroke-dasharray="6,4"/>
<line x1="279.4" y1="873.8" x2="470.2" y2="984.6" stroke="#e8e8e8" stroke-width="2.6" stroke-dasharray="6,4"/>
<line x1="293" y1="850" x2="449.7" y2="1003.3" stroke="#e8e8e8" stroke-width="2.6" stroke-dasharray="6,4"/>
<line x1="318.6" y1="827.8" x2="427.6" y2="1018.6" stroke="#e8e8e8" stroke-width="2.6" stroke-dasharray="6,4"/>
<text x="231.7" y="937" font-family='"Liberation Sans", "DejaVu Sans", sans-serif' font-size="29" fill="#eeeeee" font-weight="normal" text-anchor="start" >θ1</text>
<text x="236" y="885" font-family='"Liberation Sans", "DejaVu Sans", sans-serif' font-size="29" fill="#eeeeee" font-weight="normal" text-anchor="start" >θ2</text>
<text x="269" y="848.3" font-family='"Liberation Sans", "DejaVu Sans", sans-serif' font-size="29" fill="#eeeeee" font-weight="normal" text-anchor="start" >θ3</text>
<text x="299.8" y="817.6" font-family='"Liberation Sans", "DejaVu Sans", sans-serif' font-size="29" fill="#eeeeee" font-weight="normal" text-anchor="start" >θ4</text>
<text x="364" y="808.4" font-family='"Liberation Sans", "DejaVu Sans", sans-serif' font-size="29" fill="#eeeeee" font-weight="normal" text-anchor="start" >θ5</text>
<text x="485.5" y="940.3" font-family='"Liberation Sans", "DejaVu Sans", sans-serif' font-size="29" fill="#eeeeee" font-weight="normal" text-anchor="start" >θ1'</text>
<text x="483.8" y="998" font-family='"Liberation Sans", "DejaVu Sans", sans-serif' font-size="29" fill="#eeeeee" font-weight="normal" text-anchor="start" >θ2′</text>
<text x="458.3" y="1035.7" font-family='"Liberation Sans", "DejaVu Sans", sans-serif' font-size="29" fill="#eeeeee" font-weight="normal" text-anchor="start" >θ3′</text>
<text x="398.6" y="1050" font-family='"Liberation Sans", "DejaVu Sans", sans-serif' font-size="29" fill="#eeeeee" font-weight="normal" text-anchor="start" >θ4′</text>
<text x="342.4" y="1064.6" font-family='"Liberation Sans", "DejaVu Sans", sans-serif' font-size="29" fill="#eeeeee" font-weight="normal" text-anchor="start" >θ5′</text>
<g fill="none" stroke="#6ef01e" stroke-width="5" stroke-linecap="round" stroke-linejoin="round"><line x1="375" y1="849.4" x2="421" y2="848.5"/><polyline points="399.2,860.4 421,848.5 398.8,837.4"/></g>
<g fill="none" stroke="#6ef01e" stroke-width="5" stroke-linecap="round" stroke-linejoin="round"><line x1="298.3" y1="930" x2="298.3" y2="887.5"/><polyline points="309.8,909.5 298.3,887.5 286.8,909.5"/></g>
<g fill="none" stroke="#6ef01e" stroke-width="5" stroke-linecap="round" stroke-linejoin="round"><line x1="441.3" y1="924" x2="441.3" y2="967.5"/><polyline points="429.8,945.5 441.3,967.5 452.8,945.5"/></g>
<g fill="none" stroke="#6ef01e" stroke-width="5" stroke-linecap="round" stroke-linejoin="round"><line x1="375.6" y1="1001" x2="331.5" y2="1001"/><polyline points="353.5,989.5 331.5,1001 353.5,1012.5"/></g>
<rect x="716" y="712" width="473" height="436" fill="none" stroke="#666" stroke-width="2.2"/>
<line x1="952.6" y1="712" x2="952.6" y2="1148" stroke="#777" stroke-width="2.2" />
<line x1="708" y1="1140.9" x2="716" y2="1140.9" stroke="#666" stroke-width="2.2" />
<text x="702.5" y="1149.9" font-family='"Liberation Sans", "DejaVu Sans", sans-serif' font-size="30" fill="#000" font-weight="normal" text-anchor="end" >0</text>
<line x1="708" y1="1064.2" x2="716" y2="1064.2" stroke="#666" stroke-width="2.2" />
<text x="702.5" y="1073.2" font-family='"Liberation Sans", "DejaVu Sans", sans-serif' font-size="30" fill="#000" font-weight="normal" text-anchor="end" >1</text>
<line x1="708" y1="987.5" x2="716" y2="987.5" stroke="#666" stroke-width="2.2" />
<text x="702.5" y="996.5" font-family='"Liberation Sans", "DejaVu Sans", sans-serif' font-size="30" fill="#000" font-weight="normal" text-anchor="end" >2</text>
<line x1="708" y1="910.8" x2="716" y2="910.8" stroke="#666" stroke-width="2.2" />
<text x="702.5" y="919.8" font-family='"Liberation Sans", "DejaVu Sans", sans-serif' font-size="30" fill="#000" font-weight="normal" text-anchor="end" >3</text>
<line x1="708" y1="834.1" x2="716" y2="834.1" stroke="#666" stroke-width="2.2" />
<text x="702.5" y="843.1" font-family='"Liberation Sans", "DejaVu Sans", sans-serif' font-size="30" fill="#000" font-weight="normal" text-anchor="end" >4</text>
<line x1="708" y1="757.4" x2="716" y2="757.4" stroke="#666" stroke-width="2.2" />
<text x="702.5" y="766.4" font-family='"Liberation Sans", "DejaVu Sans", sans-serif' font-size="30" fill="#000" font-weight="normal" text-anchor="end" >5</text>
<line x1="768.6" y1="1148" x2="768.6" y2="1156" stroke="#666" stroke-width="2.2" />
<text x="768.6" y="1188.5" font-family='"Liberation Sans", "DejaVu Sans", sans-serif' font-size="30" fill="#000" font-weight="normal" text-anchor="middle" >4</text>
<line x1="860.6" y1="1148" x2="860.6" y2="1156" stroke="#666" stroke-width="2.2" />
<text x="861.6" y="1188.5" font-family='"Liberation Sans", "DejaVu Sans", sans-serif' font-size="30" fill="#000" font-weight="normal" text-anchor="middle" >2</text>
<line x1="952.6" y1="1148" x2="952.6" y2="1156" stroke="#666" stroke-width="2.2" />
<text x="958.6" y="1188.5" font-family='"Liberation Sans", "DejaVu Sans", sans-serif' font-size="30" fill="#000" font-weight="normal" text-anchor="middle" >0</text>
<line x1="1044.6" y1="1148" x2="1044.6" y2="1156" stroke="#666" stroke-width="2.2" />
<text x="1053" y="1188.5" font-family='"Liberation Sans", "DejaVu Sans", sans-serif' font-size="30" fill="#000" font-weight="normal" text-anchor="middle" >-2</text>
<line x1="1136.6" y1="1148" x2="1136.6" y2="1156" stroke="#666" stroke-width="2.2" />
<text x="1146.8" y="1188.5" font-family='"Liberation Sans", "DejaVu Sans", sans-serif' font-size="30" fill="#000" font-weight="normal" text-anchor="middle" >-4</text>
<text x="909.3" y="1215" font-family='"Liberation Sans", "DejaVu Sans", sans-serif' font-size="30" fill="#000" font-weight="normal" text-anchor="start" textLength="120.5" lengthAdjust="spacingAndGlyphs" >E<tspan font-size="20" dy="7">B</tspan><tspan dy="-7"> (meV)</tspan></text>
<text transform="translate(664.7,1030.2) rotate(-90)" font-family='"Liberation Sans", sans-serif' font-size="29" textLength="214.6" lengthAdjust="spacingAndGlyphs">Intensity (a. u.)</text>
<text x="619" y="685.5" font-family='"Liberation Serif", "DejaVu Serif", serif' font-size="64" fill="#000" font-weight="normal" text-anchor="start" >e</text>
<text x="716" y="702" font-family='"Liberation Sans", "DejaVu Sans", sans-serif' font-size="31" fill="#d42020" font-weight="bold" text-anchor="start" textLength="484" lengthAdjust="spacingAndGlyphs" >Surf. Fermi surface proximity gap</text>
<text x="1104" y="965.5" font-family='"Liberation Sans", "DejaVu Sans", sans-serif' font-size="30" fill="#000" font-weight="bold" text-anchor="start" textLength="68" lengthAdjust="spacingAndGlyphs" >Δ (θ)</text>
<polyline points="722.6,757.6 724.4,757 726.3,757.2 728.1,757.4 730,757.8 731.8,757.5 733.6,757.1 735.5,757.5 737.3,757.3 739.2,757 741,757.3 742.8,757.3 744.7,757.8 746.5,757.8 748.4,757.2 750.2,757.5 752,757.1 753.9,757.1 755.7,757 757.6,757.5 759.4,756.9 761.2,757.2 763.1,757 764.9,757.7 766.8,757.1 768.6,757.5 770.4,757 772.3,756.9 774.1,757.7 776,757.5 777.8,757.6 779.6,757.4 781.5,757.6 783.3,757.2 785.2,757.7 787,757.7 788.8,757.4 790.7,757.8 792.5,757.5 794.4,757 796.2,757 798,757.7 799.9,757.8 801.7,757.1 803.6,757 805.4,757.3 807.2,757.7 809.1,757.6 810.9,757 812.8,757 814.6,757.8 816.4,757.7 818.3,757.5 820.1,757.6 822,757.2 823.8,757.5 825.6,757.1 827.5,757.7 829.3,757.4 831.2,757 833,757.2 834.8,757.8 836.7,757.8 838.5,757.3 840.4,757.5 842.2,757.5 844,757.4 845.9,757.3 847.7,757 849.6,757.6 851.4,757.3 853.2,757.6 855.1,757.4 856.9,757.2 858.8,757.7 860.6,757.4 862.4,757.2 864.3,757.9 866.1,756.8 868,756.3 869.8,755.3 871.6,754.3 873.5,753.1 875.3,752.7 877.2,751.1 879,750.3 880.8,748.8 882.7,747.6 884.5,746.6 886.4,745.1 888.2,743.7 890,742.2 891.9,740.7 893.7,740 895.6,738.6 897.4,737.3 899.2,736 901.1,734.9 902.9,733.9 904.8,733.7 906.6,733 908.4,732 910.3,735.4 912.1,738.9 914,743.2 915.8,748.4 917.6,753.9 919.5,758.9 921.3,765.1 923.2,770.4 925,775.7 926.8,781.7 928.7,786.7 930.5,791.5 932.4,796.1 934.2,800.8 936,804.6 937.9,808.6 939.7,811.9 941.6,814.6 943.4,817.2 945.2,818.5 947.1,820.7 948.9,821.9 950.8,822.1 952.6,822.4 954.4,822.6 956.3,821.4 958.1,820.4 960,819 961.8,816.8 963.6,814.6 965.5,811.7 967.3,807.9 969.2,804.6 971,800.2 972.8,796.4 974.7,791.8 976.5,786.9 978.4,781.1 980.2,775.9 982,770.9 983.9,765.3 985.7,759 987.6,753.8 989.4,748.1 991.2,743.8 993.1,738.7 994.9,735.3 996.8,732.2 998.6,732.5 1000.4,733.4 1002.3,734.6 1004.1,734.9 1006,736.8 1007.8,737.9 1009.6,738.5 1011.5,740.2 1013.3,741.5 1015.2,742.4 1017,743.5 1018.8,744.5 1020.7,746 1022.5,747.8 1024.4,748.6 1026.2,749.6 1028,751.5 1029.9,752 1031.7,753.6 1033.6,754.6 1035.4,755.8 1037.2,756 1039.1,757 1040.9,757 1042.8,757.4 1044.6,757.7 1046.4,757.7 1048.3,757.6 1050.1,757 1052,757.7 1053.8,757.8 1055.6,757.5 1057.5,757.8 1059.3,757.5 1061.2,757.3 1063,757.3 1064.8,757.7 1066.7,757.7 1068.5,757.4 1070.4,757.2 1072.2,757.4 1074,757.3 1075.9,757 1077.7,757.7 1079.6,757.6 1081.4,757.4 1083.2,757.4 1085.1,757 1086.9,757.3 1088.8,757.3 1090.6,757.5 1092.4,757.1 1094.3,757.1 1096.1,757.6 1098,757.8 1099.8,757.6 1101.6,757.5 1103.5,757 1105.3,757.6 1107.2,757.3 1109,757.3 1110.8,757 1112.7,757.8 1114.5,757.2 1116.4,757.6 1118.2,757.8 1120,757.3 1121.9,757.1 1123.7,757.3 1125.6,757.8 1127.4,757 1129.2,757.5 1131.1,757.3 1132.9,757.2 1134.8,757.6 1136.6,757.5 1138.4,757.6 1140.3,757.8 1142.1,757.8 1144,757.2 1145.8,757.5 1147.6,757.1 1149.5,757.8 1151.3,757.6 1153.2,757.7 1155,757 1156.8,757.1 1158.7,757 1160.5,757.4 1162.4,757.8 1164.2,757.5 1166,757.7 1167.9,757.8 1169.7,757.3 1171.6,757.6 1173.4,757.8 1175.2,757.4 1177.1,757 1178.9,757 1180.8,757.4 1182.6,757.8" fill="none" stroke="#d41a1a" stroke-width="11.5" stroke-linejoin="round" stroke-linecap="round" />
<polyline points="760.8,757.4 762.6,757.4 764.5,757.4 766.3,757.4 768.1,757.4 770,757.4 771.8,757.4 773.7,757.4 775.5,757.4 777.3,757.4 779.2,757.4 781,757.4 782.9,757.4 784.7,757.4 786.5,757.4 788.4,757.4 790.2,757.4 792.1,757.4 793.9,757.4 795.7,757.4 797.6,757.4 799.4,757.4 801.3,757.4 803.1,757.4 804.9,757.4 806.8,757.4 808.6,757.4 810.5,757.4 812.3,757.4 814.1,757.4 816,757.4 817.8,757.4 819.7,757.4 821.5,757.4 823.3,757.4 825.2,757.4 827,757.4 828.9,757.4 830.7,757.4 832.5,757.4 834.4,757.4 836.2,757.4 838.1,757.4 839.9,757.4 841.7,757.4 843.6,757.4 845.4,757.4 847.3,757.4 849.1,757.4 850.9,757.4 852.8,757.4 854.6,757.4 856.5,757.4 858.3,757.4 860.1,757.4 862,757.4 863.8,757.4 865.7,757.2 867.5,756.4 869.3,755.6 871.2,754.6 873,753.6 874.9,752.5 876.7,751.4 878.5,750.2 880.4,749 882.2,747.8 884.1,746.5 885.9,745.2 887.7,743.9 889.6,742.7 891.4,741.4 893.3,740.2 895.1,739 896.9,737.8 898.8,736.7 900.6,735.6 902.5,734.6 904.3,733.7 906.1,732.8 908,732.1 909.8,734.2 911.7,737.8 913.5,742.2 915.3,747.2 917.2,752.4 919,757.9 920.9,763.5 922.7,769.1 924.5,774.6 926.4,780 928.2,785.3 930.1,790.3 931.9,795 933.7,799.5 935.6,803.6 937.4,807.3 939.3,810.7 941.1,813.7 942.9,816.3 944.8,818.5 946.6,820.2 948.5,821.4 950.3,822.2 952.1,822.6 954,822.5 955.8,821.9 957.7,820.9 959.5,819.4 961.3,817.4 963.2,815.1 965,812.3 966.9,809.1 968.7,805.5 970.5,801.6 972.4,797.3 974.2,792.7 976.1,787.8 977.9,782.7 979.7,777.4 981.6,771.9 983.4,766.3 985.3,760.7 987.1,755.2 988.9,749.8 990.8,744.6 992.6,739.9 994.5,735.8 996.3,732.8 998.1,732.5 1000,733.3 1001.8,734.1 1003.7,735.1 1005.5,736.1 1007.3,737.2 1009.2,738.4 1011,739.6 1012.9,740.8 1014.7,742 1016.5,743.3 1018.4,744.6 1020.2,745.9 1022.1,747.1 1023.9,748.4 1025.7,749.6 1027.6,750.8 1029.4,752 1031.3,753.1 1033.1,754.1 1034.9,755.1 1036.8,756 1038.6,756.8 1040.5,757.4 1042.3,757.4 1044.1,757.4 1046,757.4 1047.8,757.4 1049.7,757.4 1051.5,757.4 1053.3,757.4 1055.2,757.4 1057,757.4 1058.9,757.4 1060.7,757.4 1062.5,757.4 1064.4,757.4 1066.2,757.4 1068.1,757.4 1069.9,757.4 1071.7,757.4 1073.6,757.4 1075.4,757.4 1077.3,757.4 1079.1,757.4 1080.9,757.4 1082.8,757.4 1084.6,757.4 1086.5,757.4 1088.3,757.4 1090.1,757.4 1092,757.4 1093.8,757.4 1095.7,757.4 1097.5,757.4 1099.3,757.4 1101.2,757.4 1103,757.4 1104.9,757.4 1106.7,757.4 1108.5,757.4 1110.4,757.4 1112.2,757.4 1114.1,757.4 1115.9,757.4 1117.7,757.4 1119.6,757.4 1121.4,757.4 1123.3,757.4 1125.1,757.4 1126.9,757.4 1128.8,757.4 1130.6,757.4 1132.5,757.4 1134.3,757.4 1136.1,757.4 1138,757.4 1139.8,757.4 1141.7,757.4 1143.5,757.4" fill="none" stroke="#2010e0" stroke-width="7.5" stroke-linejoin="round" stroke-linecap="round" />
<text x="718.5" y="747.9" font-family='"Liberation Sans", "DejaVu Sans", sans-serif' font-size="33" fill="#000" font-weight="bold" text-anchor="start" textLength="34" lengthAdjust="spacingAndGlyphs" >θ5</text>
<polyline points="722.6,833.9 724.4,834.5 726.3,834.1 728.1,834.5 730,833.7 731.8,834.1 733.6,834.2 735.5,834.3 737.3,834.1 739.2,833.7 741,834.2 742.8,834.4 744.7,834.1 746.5,833.7 748.4,834.2 750.2,834 752,833.7 753.9,834.3 755.7,833.8 757.6,834.1 759.4,834.4 761.2,834.5 763.1,833.7 764.9,834.1 766.8,834.2 768.6,833.7 770.4,834 772.3,834.1 774.1,834.3 776,833.9 777.8,834.3 779.6,834.1 781.5,833.9 783.3,834 785.2,834.4 787,834.4 788.8,833.9 790.7,833.9 792.5,834.5 794.4,833.6 796.2,834.4 798,834.4 799.9,834.5 801.7,834.1 803.6,834 805.4,833.8 807.2,834.4 809.1,833.9 810.9,834.5 812.8,834 814.6,834.3 816.4,834.2 818.3,834.5 820.1,833.9 822,834.4 823.8,833.9 825.6,834.3 827.5,834 829.3,834 831.2,834.1 833,833.8 834.8,833.7 836.7,834.3 838.5,834.3 840.4,833.8 842.2,834.4 844,834.2 845.9,834.2 847.7,833.7 849.6,834.4 851.4,834 853.2,833.9 855.1,833.9 856.9,834.6 858.8,833.7 860.6,834.3 862.4,833.8 864.3,834 866.1,834.2 868,833.8 869.8,833.9 871.6,834.2 873.5,833.5 875.3,833.2 877.2,832.4 879,831.9 880.8,831 882.7,830.9 884.5,829.8 886.4,829.4 888.2,827.9 890,827.1 891.9,826.2 893.7,826.1 895.6,824.9 897.4,824.1 899.2,823.6 901.1,822.8 902.9,821.3 904.8,820.7 906.6,820.7 908.4,819.5 910.3,819.1 912.1,818.9 914,820.5 915.8,824 917.6,827.8 919.5,832.3 921.3,836.3 923.2,841 925,845.6 926.8,850.4 928.7,855.1 930.5,859.6 932.4,863.4 934.2,867.7 936,871.1 937.9,874.3 939.7,877.6 941.6,880.1 943.4,882.9 945.2,884.6 947.1,885.6 948.9,887.3 950.8,888 952.6,888.2 954.4,887.3 956.3,887.3 958.1,885.9 960,884.5 961.8,882.2 963.6,880.3 965.5,877.6 967.3,875 969.2,870.9 971,867.3 972.8,863.5 974.7,859.1 976.5,854.9 978.4,850.2 980.2,845.5 982,841 983.9,836.9 985.7,831.5 987.6,827.2 989.4,824 991.2,821 993.1,818.9 994.9,819.6 996.8,819.9 998.6,820.8 1000.4,821.3 1002.3,822.2 1004.1,822.6 1006,823.5 1007.8,823.9 1009.6,825 1011.5,826 1013.3,826.1 1015.2,827 1017,828 1018.8,829.2 1020.7,829.9 1022.5,830.6 1024.4,831.4 1026.2,832.4 1028,832.6 1029.9,833 1031.7,833.6 1033.6,833.8 1035.4,833.9 1037.2,833.9 1039.1,833.8 1040.9,833.7 1042.8,833.8 1044.6,834.2 1046.4,834 1048.3,834 1050.1,833.7 1052,833.9 1053.8,834.2 1055.6,834.4 1057.5,834.3 1059.3,834.3 1061.2,833.9 1063,833.9 1064.8,834.4 1066.7,834.1 1068.5,833.8 1070.4,834.2 1072.2,834.5 1074,834 1075.9,834.2 1077.7,834.4 1079.6,834.3 1081.4,834.6 1083.2,834.4 1085.1,834.2 1086.9,834.5 1088.8,834.6 1090.6,834.1 1092.4,833.7 1094.3,833.8 1096.1,834.3 1098,833.7 1099.8,834.5 1101.6,834.4 1103.5,834.6 1105.3,834.5 1107.2,834 1109,833.9 1110.8,834.1 1112.7,833.8 1114.5,834.1 1116.4,833.7 1118.2,834 1120,834.1 1121.9,834.4 1123.7,834.2 1125.6,834.2 1127.4,833.8 1129.2,834.3 1131.1,834.3 1132.9,833.8 1134.8,834.5 1136.6,834.1 1138.4,834.4 1140.3,833.9 1142.1,834 1144,834.5 1145.8,833.9 1147.6,834.2 1149.5,834.3 1151.3,833.8 1153.2,833.8 1155,834.3 1156.8,833.9 1158.7,834.4 1160.5,834.1 1162.4,834.5 1164.2,834 1166,833.7 1167.9,834 1169.7,834.5 1171.6,834.1 1173.4,834.1 1175.2,834.2 1177.1,834.4 1178.9,834.3 1180.8,834.1 1182.6,834.5" fill="none" stroke="#d41a1a" stroke-width="11.5" stroke-linejoin="round" stroke-linecap="round" />
<polyline points="743.8,834.1 745.6,834.1 747.4,834.1 749.3,834.1 751.1,834.1 753,834.1 754.8,834.1 756.6,834.1 758.5,834.1 760.3,834.1 762.2,834.1 764,834.1 765.8,834.1 767.7,834.1 769.5,834.1 771.4,834.1 773.2,834.1 775,834.1 776.9,834.1 778.7,834.1 780.6,834.1 782.4,834.1 784.2,834.1 786.1,834.1 787.9,834.1 789.8,834.1 791.6,834.1 793.4,834.1 795.3,834.1 797.1,834.1 799,834.1 800.8,834.1 802.6,834.1 804.5,834.1 806.3,834.1 808.2,834.1 810,834.1 811.8,834.1 813.7,834.1 815.5,834.1 817.4,834.1 819.2,834.1 821,834.1 822.9,834.1 824.7,834.1 826.6,834.1 828.4,834.1 830.2,834.1 832.1,834.1 833.9,834.1 835.8,834.1 837.6,834.1 839.4,834.1 841.3,834.1 843.1,834.1 845,834.1 846.8,834.1 848.6,834.1 850.5,834.1 852.3,834.1 854.2,834.1 856,834.1 857.8,834.1 859.7,834.1 861.5,834.1 863.4,834.1 865.2,834.1 867,834.1 868.9,834.1 870.7,834.1 872.6,834 874.4,833.5 876.2,832.9 878.1,832.3 879.9,831.6 881.8,830.9 883.6,830.2 885.4,829.4 887.3,828.6 889.1,827.8 891,826.9 892.8,826.1 894.6,825.3 896.5,824.5 898.3,823.7 900.2,822.9 902,822.1 903.8,821.4 905.7,820.7 907.5,820.1 909.4,819.5 911.2,819 913,819.4 914.9,822.1 916.7,825.6 918.6,829.7 920.4,834.1 922.2,838.7 924.1,843.4 925.9,848.1 927.8,852.7 929.6,857.2 931.4,861.5 933.3,865.6 935.1,869.4 937,872.9 938.8,876.1 940.6,879 942.5,881.4 944.3,883.5 946.2,885.2 948,886.5 949.8,887.3 951.7,887.7 953.5,887.7 955.4,887.3 957.2,886.5 959,885.2 960.9,883.5 962.7,881.4 964.6,879 966.4,876.1 968.2,872.9 970.1,869.4 971.9,865.6 973.8,861.5 975.6,857.2 977.4,852.7 979.3,848.1 981.1,843.4 983,838.7 984.8,834.1 986.6,829.7 988.5,825.6 990.3,822.1 992.2,819.4 994,819 995.8,819.5 997.7,820.1 999.5,820.7 1001.4,821.4 1003.2,822.1 1005,822.9 1006.9,823.7 1008.7,824.5 1010.6,825.3 1012.4,826.1 1014.2,826.9 1016.1,827.8 1017.9,828.6 1019.8,829.4 1021.6,830.2 1023.4,830.9 1025.3,831.6 1027.1,832.3 1029,832.9 1030.8,833.5 1032.6,834 1034.5,834.1 1036.3,834.1 1038.2,834.1 1040,834.1 1041.8,834.1 1043.7,834.1 1045.5,834.1 1047.4,834.1 1049.2,834.1 1051,834.1 1052.9,834.1 1054.7,834.1 1056.6,834.1 1058.4,834.1 1060.2,834.1 1062.1,834.1 1063.9,834.1 1065.8,834.1 1067.6,834.1 1069.4,834.1 1071.3,834.1 1073.1,834.1 1075,834.1 1076.8,834.1 1078.6,834.1 1080.5,834.1 1082.3,834.1 1084.2,834.1 1086,834.1 1087.8,834.1 1089.7,834.1 1091.5,834.1 1093.4,834.1 1095.2,834.1 1097,834.1 1098.9,834.1 1100.7,834.1 1102.6,834.1 1104.4,834.1 1106.2,834.1 1108.1,834.1 1109.9,834.1 1111.8,834.1 1113.6,834.1 1115.4,834.1 1117.3,834.1 1119.1,834.1 1121,834.1 1122.8,834.1 1124.6,834.1 1126.5,834.1 1128.3,834.1 1130.2,834.1 1132,834.1 1133.8,834.1 1135.7,834.1 1137.5,834.1 1139.4,834.1 1141.2,834.1 1143,834.1 1144.9,834.1 1146.7,834.1 1148.6,834.1 1150.4,834.1 1152.2,834.1 1154.1,834.1 1155.9,834.1 1157.8,834.1 1159.6,834.1 1161.4,834.1" fill="none" stroke="#2010e0" stroke-width="7.5" stroke-linejoin="round" stroke-linecap="round" />
<text x="718.5" y="824.6" font-family='"Liberation Sans", "DejaVu Sans", sans-serif' font-size="33" fill="#000" font-weight="bold" text-anchor="start" textLength="34" lengthAdjust="spacingAndGlyphs" >θ4</text>
<polyline points="722.6,910.6 724.4,911 726.3,911 728.1,911.2 730,911 731.8,910.4 733.6,911 735.5,911.2 737.3,910.9 739.2,910.4 741,911.2 742.8,910.9 744.7,911.1 746.5,910.6 748.4,910.8 750.2,911.2 752,910.5 753.9,911 755.7,910.6 757.6,910.8 759.4,910.5 761.2,911.2 763.1,911.1 764.9,911 766.8,911 768.6,910.5 770.4,910.8 772.3,910.9 774.1,910.8 776,910.5 777.8,910.7 779.6,910.8 781.5,910.7 783.3,910.7 785.2,910.9 787,910.9 788.8,911.1 790.7,910.9 792.5,910.5 794.4,911 796.2,910.9 798,910.7 799.9,910.7 801.7,911.1 803.6,910.8 805.4,910.6 807.2,911.2 809.1,911.2 810.9,910.6 812.8,910.4 814.6,911.2 816.4,911.2 818.3,910.7 820.1,911 822,910.7 823.8,911.2 825.6,910.8 827.5,911.1 829.3,911 831.2,910.6 833,910.8 834.8,910.5 836.7,910.5 838.5,910.7 840.4,910.5 842.2,911.1 844,910.8 845.9,911 847.7,910.7 849.6,911.2 851.4,910.4 853.2,910.9 855.1,910.5 856.9,910.4 858.8,910.4 860.6,910.9 862.4,910.5 864.3,910.3 866.1,911.1 868,910.6 869.8,910.6 871.6,910.3 873.5,909.9 875.3,909.3 877.2,908.4 879,907.2 880.8,906.9 882.7,906.3 884.5,905.1 886.4,904.4 888.2,903.3 890,902.6 891.9,901.9 893.7,901.2 895.6,899.6 897.4,898.8 899.2,898.3 901.1,897.2 902.9,896.3 904.8,895.6 906.6,894.4 908.4,893.8 910.3,893.6 912.1,892.9 914,892.1 915.8,891.9 917.6,893.8 919.5,899 921.3,904 923.2,910.1 925,916 926.8,922.8 928.7,928.9 930.5,934.4 932.4,940.5 934.2,946.7 936,951.8 937.9,957 939.7,961.3 941.6,965.1 943.4,967.8 945.2,971.2 947.1,973.4 948.9,975.1 950.8,976 952.6,975.5 954.4,975.5 956.3,974.3 958.1,972.9 960,970.7 961.8,968.4 963.6,965.2 965.5,961.2 967.3,957 969.2,952 971,946.2 972.8,940.8 974.7,935.3 976.5,928.8 978.4,922 980.2,915.7 982,909.6 983.9,903.7 985.7,898.2 987.6,894.1 989.4,891.7 991.2,892.1 993.1,892.9 994.9,893.8 996.8,894.3 998.6,894.9 1000.4,895.9 1002.3,896.8 1004.1,897.5 1006,898.2 1007.8,898.6 1009.6,899.9 1011.5,900.5 1013.3,901.4 1015.2,902.5 1017,903.6 1018.8,904.4 1020.7,905.4 1022.5,905.9 1024.4,906.5 1026.2,907.3 1028,908.5 1029.9,909.4 1031.7,910.1 1033.6,910.2 1035.4,911.1 1037.2,911.3 1039.1,911 1040.9,911 1042.8,911.1 1044.6,910.6 1046.4,910.7 1048.3,911 1050.1,910.6 1052,911.1 1053.8,910.4 1055.6,911.2 1057.5,910.7 1059.3,910.6 1061.2,910.6 1063,910.8 1064.8,910.5 1066.7,910.7 1068.5,910.6 1070.4,911.2 1072.2,911.1 1074,910.8 1075.9,910.8 1077.7,911.2 1079.6,910.6 1081.4,910.9 1083.2,910.8 1085.1,910.8 1086.9,910.5 1088.8,911 1090.6,910.7 1092.4,910.7 1094.3,910.7 1096.1,911 1098,911 1099.8,910.8 1101.6,910.7 1103.5,910.7 1105.3,911.1 1107.2,910.8 1109,910.7 1110.8,911.1 1112.7,911.2 1114.5,910.4 1116.4,911.2 1118.2,910.8 1120,911 1121.9,911.2 1123.7,911 1125.6,911.1 1127.4,910.9 1129.2,910.4 1131.1,911.2 1132.9,910.9 1134.8,910.6 1136.6,910.7 1138.4,911.2 1140.3,911 1142.1,911 1144,910.4 1145.8,910.9 1147.6,911 1149.5,910.8 1151.3,910.8 1153.2,911.1 1155,910.6 1156.8,910.6 1158.7,910.8 1160.5,910.8 1162.4,910.6 1164.2,910.4 1166,910.7 1167.9,911.2 1169.7,910.8 1171.6,910.7 1173.4,911 1175.2,910.6 1177.1,910.9 1178.9,910.7 1180.8,910.7 1182.6,910.6" fill="none" stroke="#d41a1a" stroke-width="11.5" stroke-linejoin="round" stroke-linecap="round" />
<polyline points="777.3,910.8 779.2,910.8 781,910.8 782.9,910.8 784.7,910.8 786.5,910.8 788.4,910.8 790.2,910.8 792.1,910.8 793.9,910.8 795.7,910.8 797.6,910.8 799.4,910.8 801.3,910.8 803.1,910.8 804.9,910.8 806.8,910.8 808.6,910.8 810.5,910.8 812.3,910.8 814.1,910.8 816,910.8 817.8,910.8 819.7,910.8 821.5,910.8 823.3,910.8 825.2,910.8 827,910.8 828.9,910.8 830.7,910.8 832.5,910.8 834.4,910.8 836.2,910.8 838.1,910.8 839.9,910.8 841.7,910.8 843.6,910.8 845.4,910.8 847.3,910.8 849.1,910.8 850.9,910.8 852.8,910.8 854.6,910.8 856.5,910.8 858.3,910.8 860.1,910.8 862,910.8 863.8,910.8 865.7,910.8 867.5,910.8 869.3,910.8 871.2,910.4 873,909.8 874.9,909.2 876.7,908.5 878.5,907.8 880.4,907 882.2,906.2 884.1,905.4 885.9,904.5 887.7,903.7 889.6,902.8 891.4,901.9 893.3,901 895.1,900.1 896.9,899.2 898.8,898.3 900.6,897.4 902.5,896.6 904.3,895.8 906.1,895 908,894.3 909.8,893.6 911.7,892.9 913.5,892.3 915.3,891.8 917.2,893.3 919,897.4 920.9,902.6 922.7,908.3 924.5,914.5 926.4,920.8 928.2,927.1 930.1,933.3 931.9,939.3 933.7,945 935.6,950.4 937.4,955.4 939.3,959.9 941.1,963.9 942.9,967.4 944.8,970.3 946.6,972.7 948.5,974.4 950.3,975.5 952.1,976 954,975.8 955.8,975 957.7,973.6 959.5,971.6 961.3,969 963.2,965.8 965,962 966.9,957.7 968.7,953 970.5,947.8 972.4,942.2 974.2,936.3 976.1,930.2 977.9,923.9 979.7,917.6 981.6,911.4 983.4,905.4 985.3,899.9 987.1,895.2 988.9,892 990.8,892 992.6,892.6 994.5,893.2 996.3,893.9 998.1,894.6 1000,895.4 1001.8,896.2 1003.7,897 1005.5,897.9 1007.3,898.8 1009.2,899.6 1011,900.5 1012.9,901.4 1014.7,902.3 1016.5,903.2 1018.4,904.1 1020.2,905 1022.1,905.8 1023.9,906.6 1025.7,907.4 1027.6,908.2 1029.4,908.9 1031.3,909.5 1033.1,910.1 1034.9,910.7 1036.8,910.8 1038.6,910.8 1040.5,910.8 1042.3,910.8 1044.1,910.8 1046,910.8 1047.8,910.8 1049.7,910.8 1051.5,910.8 1053.3,910.8 1055.2,910.8 1057,910.8 1058.9,910.8 1060.7,910.8 1062.5,910.8 1064.4,910.8 1066.2,910.8 1068.1,910.8 1069.9,910.8 1071.7,910.8 1073.6,910.8 1075.4,910.8 1077.3,910.8 1079.1,910.8 1080.9,910.8 1082.8,910.8 1084.6,910.8 1086.5,910.8 1088.3,910.8 1090.1,910.8 1092,910.8 1093.8,910.8 1095.7,910.8 1097.5,910.8 1099.3,910.8 1101.2,910.8 1103,910.8 1104.9,910.8 1106.7,910.8 1108.5,910.8 1110.4,910.8 1112.2,910.8 1114.1,910.8 1115.9,910.8 1117.7,910.8 1119.6,910.8 1121.4,910.8 1123.3,910.8 1125.1,910.8 1126.9,910.8 1128.8,910.8" fill="none" stroke="#2010e0" stroke-width="7.5" stroke-linejoin="round" stroke-linecap="round" />
<text x="718.5" y="901.3" font-family='"Liberation Sans", "DejaVu Sans", sans-serif' font-size="33" fill="#000" font-weight="bold" text-anchor="start" textLength="34" lengthAdjust="spacingAndGlyphs" >θ3</text>
<polyline points="722.6,987.1 724.4,987.3 726.3,987.3 728.1,987.3 730,987.7 731.8,987.4 733.6,987.4 735.5,987.9 737.3,987.3 739.2,987.8 741,987.5 742.8,987.5 744.7,987.3 746.5,987.3 748.4,987.5 750.2,987.1 752,987.6 753.9,987.4 755.7,987 757.6,987.7 759.4,987.3 761.2,987.1 763.1,987.9 764.9,987.2 766.8,987.4 768.6,987.5 770.4,987.2 772.3,987.2 774.1,987.8 776,987.5 777.8,987.4 779.6,987.3 781.5,987.1 783.3,987.2 785.2,987.2 787,987.9 788.8,987.6 790.7,987.1 792.5,987.1 794.4,987.3 796.2,987.7 798,987.3 799.9,987.5 801.7,987.3 803.6,987.4 805.4,987.2 807.2,987.3 809.1,987.1 810.9,987.5 812.8,987.5 814.6,987.4 816.4,987.4 818.3,987.9 820.1,987.1 822,987.7 823.8,987.5 825.6,987.9 827.5,987.8 829.3,987.1 831.2,987.7 833,987.7 834.8,987.2 836.7,987.7 838.5,987.3 840.4,987.4 842.2,987.1 844,987.5 845.9,987.7 847.7,987.7 849.6,987.6 851.4,988 853.2,987.9 855.1,987.8 856.9,987.7 858.8,987.3 860.6,987.1 862.4,987.6 864.3,987.7 866.1,987.7 868,987.3 869.8,986.8 871.6,986.6 873.5,985.5 875.3,985.1 877.2,984.4 879,983.1 880.8,982.9 882.7,981.7 884.5,980.5 886.4,979.9 888.2,978.7 890,978.3 891.9,976.8 893.7,976.7 895.6,975 897.4,974.6 899.2,974.1 901.1,973 902.9,971.5 904.8,970.9 906.6,970.2 908.4,969.4 910.3,969.5 912.1,968.6 914,967.8 915.8,968 917.6,971.5 919.5,976.8 921.3,981.3 923.2,987.4 925,993.5 926.8,999.6 928.7,1005.2 930.5,1010.9 932.4,1016.5 934.2,1021.8 936,1026.1 937.9,1031 939.7,1035.2 941.6,1038.4 943.4,1041.9 945.2,1044.3 947.1,1046.6 948.9,1047.9 950.8,1048.1 952.6,1048.7 954.4,1048.5 956.3,1047.5 958.1,1046.1 960,1044.2 961.8,1041.8 963.6,1039 965.5,1035.5 967.3,1031.4 969.2,1026.6 971,1022.1 972.8,1016.3 974.7,1011 976.5,1005.4 978.4,999.4 980.2,993.3 982,987.7 983.9,981.4 985.7,976.5 987.6,972.3 989.4,968.8 991.2,967.5 993.1,968.3 994.9,969.2 996.8,969.5 998.6,970.8 1000.4,970.8 1002.3,971.5 1004.1,972.6 1006,974 1007.8,974.6 1009.6,975.1 1011.5,976.2 1013.3,977.5 1015.2,978.3 1017,979.4 1018.8,979.9 1020.7,981.1 1022.5,981.7 1024.4,982.1 1026.2,983 1028,984.1 1029.9,984.6 1031.7,985.9 1033.6,985.8 1035.4,986.5 1037.2,987.4 1039.1,987.1 1040.9,987.7 1042.8,987.1 1044.6,987.7 1046.4,987.1 1048.3,987.2 1050.1,987.1 1052,987.3 1053.8,987.9 1055.6,987.7 1057.5,987.4 1059.3,987.1 1061.2,987.3 1063,987.9 1064.8,987.6 1066.7,987.6 1068.5,987.8 1070.4,987.8 1072.2,987.5 1074,987.6 1075.9,987.7 1077.7,987.6 1079.6,987.1 1081.4,987.4 1083.2,987.3 1085.1,987.1 1086.9,987.9 1088.8,987.1 1090.6,987.9 1092.4,987.8 1094.3,987.3 1096.1,987.3 1098,987.4 1099.8,987.5 1101.6,987.3 1103.5,987.6 1105.3,987.8 1107.2,987.8 1109,987.9 1110.8,987.9 1112.7,987.1 1114.5,987.1 1116.4,987.6 1118.2,987.6 1120,987.7 1121.9,987.2 1123.7,987.5 1125.6,987.8 1127.4,987.1 1129.2,987.1 1131.1,987.9 1132.9,987.5 1134.8,987.8 1136.6,987.4 1138.4,987.6 1140.3,987.7 1142.1,987.7 1144,987.4 1145.8,987.5 1147.6,987.5 1149.5,987.3 1151.3,987.5 1153.2,987.1 1155,987.6 1156.8,987.2 1158.7,987.1 1160.5,987.4 1162.4,987.4 1164.2,987.2 1166,987.3 1167.9,987.8 1169.7,987.6 1171.6,987.8 1173.4,987.9 1175.2,987.3 1177.1,987.7 1178.9,987.7 1180.8,987.9 1182.6,987.9" fill="none" stroke="#d41a1a" stroke-width="11.5" stroke-linejoin="round" stroke-linecap="round" />
<polyline points="776.9,987.5 778.7,987.5 780.6,987.5 782.4,987.5 784.2,987.5 786.1,987.5 787.9,987.5 789.8,987.5 791.6,987.5 793.4,987.5 795.3,987.5 797.1,987.5 799,987.5 800.8,987.5 802.6,987.5 804.5,987.5 806.3,987.5 808.2,987.5 810,987.5 811.8,987.5 813.7,987.5 815.5,987.5 817.4,987.5 819.2,987.5 821,987.5 822.9,987.5 824.7,987.5 826.6,987.5 828.4,987.5 830.2,987.5 832.1,987.5 833.9,987.5 835.8,987.5 837.6,987.5 839.4,987.5 841.3,987.5 843.1,987.5 845,987.5 846.8,987.5 848.6,987.5 850.5,987.5 852.3,987.5 854.2,987.5 856,987.5 857.8,987.5 859.7,987.5 861.5,987.5 863.4,987.5 865.2,987.5 867,987.5 868.9,987.1 870.7,986.5 872.6,985.9 874.4,985.2 876.2,984.5 878.1,983.7 879.9,982.9 881.8,982.1 883.6,981.2 885.4,980.3 887.3,979.5 889.1,978.6 891,977.6 892.8,976.7 894.6,975.8 896.5,974.9 898.3,974.1 900.2,973.2 902,972.3 903.8,971.5 905.7,970.8 907.5,970 909.4,969.3 911.2,968.7 913,968.1 914.9,967.6 916.7,969.9 918.6,974.1 920.4,979 922.2,984.5 924.1,990.3 925.9,996.3 927.8,1002.2 929.6,1008 931.4,1013.7 933.3,1019.1 935.1,1024.1 937,1028.8 938.8,1033.1 940.6,1036.9 942.5,1040.2 944.3,1043.1 946.2,1045.3 948,1047.1 949.8,1048.2 951.7,1048.8 953.5,1048.8 955.4,1048.2 957.2,1047.1 959,1045.3 960.9,1043.1 962.7,1040.2 964.6,1036.9 966.4,1033.1 968.2,1028.8 970.1,1024.1 971.9,1019.1 973.8,1013.7 975.6,1008 977.4,1002.2 979.3,996.3 981.1,990.3 983,984.5 984.8,979 986.6,974.1 988.5,969.9 990.3,967.6 992.2,968.1 994,968.7 995.8,969.3 997.7,970 999.5,970.8 1001.4,971.5 1003.2,972.3 1005,973.2 1006.9,974.1 1008.7,974.9 1010.6,975.8 1012.4,976.7 1014.2,977.6 1016.1,978.6 1017.9,979.5 1019.8,980.3 1021.6,981.2 1023.4,982.1 1025.3,982.9 1027.1,983.7 1029,984.5 1030.8,985.2 1032.6,985.9 1034.5,986.5 1036.3,987.1 1038.2,987.5 1040,987.5 1041.8,987.5 1043.7,987.5 1045.5,987.5 1047.4,987.5 1049.2,987.5 1051,987.5 1052.9,987.5 1054.7,987.5 1056.6,987.5 1058.4,987.5 1060.2,987.5 1062.1,987.5 1063.9,987.5 1065.8,987.5 1067.6,987.5 1069.4,987.5 1071.3,987.5 1073.1,987.5 1075,987.5 1076.8,987.5 1078.6,987.5 1080.5,987.5 1082.3,987.5 1084.2,987.5 1086,987.5 1087.8,987.5 1089.7,987.5 1091.5,987.5 1093.4,987.5 1095.2,987.5 1097,987.5 1098.9,987.5 1100.7,987.5 1102.6,987.5 1104.4,987.5 1106.2,987.5 1108.1,987.5 1109.9,987.5 1111.8,987.5 1113.6,987.5 1115.4,987.5 1117.3,987.5 1119.1,987.5 1121,987.5 1122.8,987.5 1124.6,987.5 1126.5,987.5" fill="none" stroke="#2010e0" stroke-width="7.5" stroke-linejoin="round" stroke-linecap="round" />
<text x="718.5" y="978" font-family='"Liberation Sans", "DejaVu Sans", sans-serif' font-size="33" fill="#000" font-weight="bold" text-anchor="start" textLength="34" lengthAdjust="spacingAndGlyphs" >θ2</text>
<polyline points="722.6,1064 724.4,1064.3 726.3,1064.3 728.1,1064 730,1063.8 731.8,1064 733.6,1064.5 735.5,1063.7 737.3,1064.5 739.2,1064.1 741,1064.1 742.8,1064.4 744.7,1063.8 746.5,1064.1 748.4,1064 750.2,1064.5 752,1063.9 753.9,1064.4 755.7,1064.1 757.6,1064 759.4,1064.4 761.2,1064.4 763.1,1064.4 764.9,1063.8 766.8,1064.1 768.6,1064.2 770.4,1064.1 772.3,1064.1 774.1,1064.4 776,1064.6 777.8,1064.6 779.6,1064.1 781.5,1064.1 783.3,1063.8 785.2,1064.1 787,1063.9 788.8,1063.8 790.7,1064.2 792.5,1064.3 794.4,1064.2 796.2,1064.3 798,1064 799.9,1064.1 801.7,1064.5 803.6,1063.8 805.4,1064.2 807.2,1064 809.1,1064.2 810.9,1064.1 812.8,1064.1 814.6,1064.6 816.4,1064.5 818.3,1064 820.1,1064.3 822,1064.5 823.8,1063.9 825.6,1064 827.5,1064 829.3,1064.3 831.2,1064.5 833,1064 834.8,1064.5 836.7,1064 838.5,1064 840.4,1064.4 842.2,1064.7 844,1064.1 845.9,1063.9 847.7,1064.1 849.6,1063.8 851.4,1064.4 853.2,1064 855.1,1064.3 856.9,1064.1 858.8,1064.4 860.6,1064.4 862.4,1064.2 864.3,1064.1 866.1,1063.6 868,1063.4 869.8,1062.9 871.6,1062.2 873.5,1061.6 875.3,1061.2 877.2,1060.6 879,1059.5 880.8,1059 882.7,1058.6 884.5,1057.7 886.4,1056.7 888.2,1055.6 890,1054.9 891.9,1054.2 893.7,1053.1 895.6,1052.8 897.4,1052 899.2,1050.8 901.1,1050.1 902.9,1049.6 904.8,1048.5 906.6,1048.6 908.4,1047.5 910.3,1046.5 912.1,1045.9 914,1046 915.8,1045 917.6,1045.9 919.5,1049 921.3,1054.2 923.2,1059.2 925,1064.9 926.8,1070.4 928.7,1076.9 930.5,1082.7 932.4,1088.5 934.2,1093.4 936,1099 937.9,1102.9 939.7,1107.7 941.6,1111.4 943.4,1113.9 945.2,1116.9 947.1,1118.8 948.9,1120.7 950.8,1121.7 952.6,1121.8 954.4,1121 956.3,1120.8 958.1,1118.6 960,1116.6 961.8,1114.1 963.6,1111.3 965.5,1107.2 967.3,1102.8 969.2,1098.5 971,1093.8 972.8,1088.1 974.7,1082.2 976.5,1076.7 978.4,1071.2 980.2,1065.3 982,1059.2 983.9,1054.5 985.7,1049.8 987.6,1046 989.4,1045.5 991.2,1045.8 993.1,1046.7 994.9,1046.8 996.8,1047.3 998.6,1048.3 1000.4,1048.8 1002.3,1049.5 1004.1,1050 1006,1051 1007.8,1051.7 1009.6,1052.6 1011.5,1053.1 1013.3,1054.6 1015.2,1055.4 1017,1055.5 1018.8,1056.3 1020.7,1057.9 1022.5,1057.8 1024.4,1058.8 1026.2,1059.3 1028,1060.2 1029.9,1061.2 1031.7,1062.1 1033.6,1062.1 1035.4,1062.7 1037.2,1063.5 1039.1,1064.2 1040.9,1064.3 1042.8,1063.8 1044.6,1064.2 1046.4,1064.5 1048.3,1063.8 1050.1,1063.8 1052,1064.5 1053.8,1064.5 1055.6,1064 1057.5,1064.3 1059.3,1064.2 1061.2,1064 1063,1064.4 1064.8,1064.1 1066.7,1064.5 1068.5,1064.5 1070.4,1064.2 1072.2,1064.3 1074,1063.8 1075.9,1064.5 1077.7,1063.8 1079.6,1064.4 1081.4,1064.3 1083.2,1064.6 1085.1,1064.4 1086.9,1063.8 1088.8,1064.3 1090.6,1063.9 1092.4,1063.8 1094.3,1064 1096.1,1064.5 1098,1064.3 1099.8,1064.5 1101.6,1064.4 1103.5,1064.4 1105.3,1064.5 1107.2,1064 1109,1064.2 1110.8,1064.4 1112.7,1064.4 1114.5,1064.5 1116.4,1064.6 1118.2,1064.3 1120,1064.6 1121.9,1064.2 1123.7,1064.4 1125.6,1063.9 1127.4,1064.4 1129.2,1063.9 1131.1,1063.8 1132.9,1063.8 1134.8,1064.5 1136.6,1063.8 1138.4,1064.2 1140.3,1063.8 1142.1,1064.2 1144,1064.2 1145.8,1064.4 1147.6,1064 1149.5,1064.3 1151.3,1063.8 1153.2,1064 1155,1064.3 1156.8,1064.6 1158.7,1064.4 1160.5,1064.3 1162.4,1064.3 1164.2,1064.1 1166,1064.7 1167.9,1064.2 1169.7,1063.8 1171.6,1063.8 1173.4,1064 1175.2,1064 1177.1,1064.1 1178.9,1063.7 1180.8,1063.9 1182.6,1064.2" fill="none" stroke="#d41a1a" stroke-width="11.5" stroke-linejoin="round" stroke-linecap="round" />
<polyline points="776.9,1064.2 778.7,1064.2 780.6,1064.2 782.4,1064.2 784.2,1064.2 786.1,1064.2 787.9,1064.2 789.8,1064.2 791.6,1064.2 793.4,1064.2 795.3,1064.2 797.1,1064.2 799,1064.2 800.8,1064.2 802.6,1064.2 804.5,1064.2 806.3,1064.2 808.2,1064.2 810,1064.2 811.8,1064.2 813.7,1064.2 815.5,1064.2 817.4,1064.2 819.2,1064.2 821,1064.2 822.9,1064.2 824.7,1064.2 826.6,1064.2 828.4,1064.2 830.2,1064.2 832.1,1064.2 833.9,1064.2 835.8,1064.2 837.6,1064.2 839.4,1064.2 841.3,1064.2 843.1,1064.2 845,1064.2 846.8,1064.2 848.6,1064.2 850.5,1064.2 852.3,1064.2 854.2,1064.2 856,1064.2 857.8,1064.2 859.7,1064.2 861.5,1064.2 863.4,1064.2 865.2,1064.2 867,1063.7 868.9,1063.2 870.7,1062.6 872.6,1062 874.4,1061.4 876.2,1060.7 878.1,1060 879.9,1059.3 881.8,1058.6 883.6,1057.8 885.4,1057 887.3,1056.2 889.1,1055.4 891,1054.6 892.8,1053.8 894.6,1053 896.5,1052.2 898.3,1051.4 900.2,1050.7 902,1049.9 903.8,1049.2 905.7,1048.5 907.5,1047.8 909.4,1047.2 911.2,1046.6 913,1046 914.9,1045.5 916.7,1045 918.6,1047.4 920.4,1051.6 922.2,1056.6 924.1,1062.2 925.9,1068 927.8,1073.8 929.6,1079.7 931.4,1085.4 933.3,1090.9 935.1,1096.1 937,1100.9 938.8,1105.4 940.6,1109.3 942.5,1112.8 944.3,1115.7 946.2,1118 948,1119.8 949.8,1121 951.7,1121.6 953.5,1121.6 955.4,1121 957.2,1119.8 959,1118 960.9,1115.7 962.7,1112.8 964.6,1109.3 966.4,1105.4 968.2,1100.9 970.1,1096.1 971.9,1090.9 973.8,1085.4 975.6,1079.7 977.4,1073.8 979.3,1068 981.1,1062.2 983,1056.6 984.8,1051.6 986.6,1047.4 988.5,1045 990.3,1045.5 992.2,1046 994,1046.6 995.8,1047.2 997.7,1047.8 999.5,1048.5 1001.4,1049.2 1003.2,1049.9 1005,1050.7 1006.9,1051.4 1008.7,1052.2 1010.6,1053 1012.4,1053.8 1014.2,1054.6 1016.1,1055.4 1017.9,1056.2 1019.8,1057 1021.6,1057.8 1023.4,1058.6 1025.3,1059.3 1027.1,1060 1029,1060.7 1030.8,1061.4 1032.6,1062 1034.5,1062.6 1036.3,1063.2 1038.2,1063.7 1040,1064.2 1041.8,1064.2 1043.7,1064.2 1045.5,1064.2 1047.4,1064.2 1049.2,1064.2 1051,1064.2 1052.9,1064.2 1054.7,1064.2 1056.6,1064.2 1058.4,1064.2 1060.2,1064.2 1062.1,1064.2 1063.9,1064.2 1065.8,1064.2 1067.6,1064.2 1069.4,1064.2 1071.3,1064.2 1073.1,1064.2 1075,1064.2 1076.8,1064.2 1078.6,1064.2 1080.5,1064.2 1082.3,1064.2 1084.2,1064.2 1086,1064.2 1087.8,1064.2 1089.7,1064.2 1091.5,1064.2 1093.4,1064.2 1095.2,1064.2 1097,1064.2 1098.9,1064.2 1100.7,1064.2 1102.6,1064.2 1104.4,1064.2 1106.2,1064.2 1108.1,1064.2 1109.9,1064.2 1111.8,1064.2 1113.6,1064.2 1115.4,1064.2 1117.3,1064.2 1119.1,1064.2 1121,1064.2 1122.8,1064.2 1124.6,1064.2 1126.5,1064.2" fill="none" stroke="#2010e0" stroke-width="7.5" stroke-linejoin="round" stroke-linecap="round" />
<text x="718.5" y="1054.7" font-family='"Liberation Sans", "DejaVu Sans", sans-serif' font-size="33" fill="#000" font-weight="bold" text-anchor="start" textLength="34" lengthAdjust="spacingAndGlyphs" >θ1</text>
<text x="1248.8" y="695.8" font-family='"Liberation Serif", "DejaVu Serif", serif' font-size="64" fill="#000" font-weight="normal" text-anchor="start" >f</text>
<text x="1329" y="703" font-family='"Liberation Sans", "DejaVu Sans", sans-serif' font-size="36" fill="#d42020" font-weight="bold" text-anchor="start" textLength="422" lengthAdjust="spacingAndGlyphs" >SC gap vs FS angle Δ (θ)</text>
<g fill="none" stroke="#000" stroke-width="3"><circle cx="1492.8" cy="940.4" r="37"/><circle cx="1492.8" cy="940.4" r="74.1"/><circle cx="1492.8" cy="940.4" r="111.1"/><circle cx="1492.8" cy="940.4" r="148.2"/><circle cx="1492.8" cy="940.4" r="185.2"/><line x1="1678" y1="940.4" x2="1307.6" y2="940.4"/><line x1="1653.2" y1="847.8" x2="1332.4" y2="1033"/><line x1="1585.4" y1="780" x2="1400.2" y2="1100.8"/><line x1="1492.8" y1="755.2" x2="1492.8" y2="1125.6"/><line x1="1400.2" y1="780" x2="1585.4" y2="1100.8"/><line x1="1332.4" y1="847.8" x2="1653.2" y2="1033"/></g>
<text transform="translate(1492.8,940.4) rotate(90)" x="-6.2" y="-195" font-family='"Liberation Sans", sans-serif' font-size="24" textLength="26.3" lengthAdjust="spacingAndGlyphs">0º</text>
<text transform="translate(1492.8,940.4) rotate(60)" x="-12.8" y="-195" font-family='"Liberation Sans", sans-serif' font-size="24" textLength="39.6" lengthAdjust="spacingAndGlyphs">30º</text>
<text transform="translate(1492.8,940.4) rotate(30)" x="-12.8" y="-195" font-family='"Liberation Sans", sans-serif' font-size="24" textLength="39.6" lengthAdjust="spacingAndGlyphs">60º</text>
<text transform="translate(1492.8,940.4) rotate(0)" x="-12.8" y="-195" font-family='"Liberation Sans", sans-serif' font-size="24" textLength="39.6" lengthAdjust="spacingAndGlyphs">90º</text>
<text transform="translate(1492.8,940.4) rotate(-30)" x="-19.5" y="-195" font-family='"Liberation Sans", sans-serif' font-size="24" textLength="52.9" lengthAdjust="spacingAndGlyphs">120º</text>
<text transform="translate(1492.8,940.4) rotate(-60)" x="-19.5" y="-195" font-family='"Liberation Sans", sans-serif' font-size="24" textLength="52.9" lengthAdjust="spacingAndGlyphs">150º</text>
<text transform="translate(1492.8,940.4) rotate(-90)" x="-19.5" y="-195" font-family='"Liberation Sans", sans-serif' font-size="24" textLength="52.9" lengthAdjust="spacingAndGlyphs">180º</text>
<text transform="translate(1492.8,940.4) rotate(-120)" x="-19.5" y="-195" font-family='"Liberation Sans", sans-serif' font-size="24" textLength="52.9" lengthAdjust="spacingAndGlyphs">210º</text>
<text transform="translate(1492.8,940.4) rotate(-150)" x="-19.5" y="-195" font-family='"Liberation Sans", sans-serif' font-size="24" textLength="52.9" lengthAdjust="spacingAndGlyphs">240º</text>
<text transform="translate(1492.8,940.4) rotate(-180)" x="-19.5" y="-195" font-family='"Liberation Sans", sans-serif' font-size="24" textLength="52.9" lengthAdjust="spacingAndGlyphs">270º</text>
<text transform="translate(1492.8,940.4) rotate(-210)" x="-19.5" y="-195" font-family='"Liberation Sans", sans-serif' font-size="24" textLength="52.9" lengthAdjust="spacingAndGlyphs">300º</text>
<text transform="translate(1492.8,940.4) rotate(-240)" x="-19.5" y="-195" font-family='"Liberation Sans", sans-serif' font-size="24" textLength="52.9" lengthAdjust="spacingAndGlyphs">330º</text>
<circle cx="1492.8" cy="815.1" r="15" fill="#d0161a"/>
<circle cx="1441.5" cy="851.5" r="15" fill="#d0161a"/>
<circle cx="1418.7" cy="866.3" r="15" fill="#d0161a"/>
<circle cx="1374.7" cy="872.2" r="15" fill="#d0161a"/>
<circle cx="1393.5" cy="940.4" r="15" fill="#d0161a"/>
<circle cx="1594.3" cy="940.4" r="15" fill="#d0161a"/>
<circle cx="1612.3" cy="1009.4" r="15" fill="#d0161a"/>
<circle cx="1562.3" cy="1009.9" r="15" fill="#d0161a"/>
<circle cx="1539" cy="1020.3" r="15" fill="#d0161a"/>
<circle cx="1492.8" cy="1070.4" r="15" fill="#d0161a"/>
<line x1="1493" y1="1126" x2="1493" y2="1225" stroke="#000" stroke-width="2.8" />
<line x1="1678.3" y1="963" x2="1678.3" y2="1215" stroke="#000" stroke-width="2.8" />
<line x1="1461" y1="1206.4" x2="1481" y2="1206.4" stroke="#000" stroke-width="2.5" />
<polygon points="1491,1206.4 1481,1211.4 1481,1201.4" fill="#000" stroke="none" stroke-width="1" />
<line x1="1711" y1="1206.4" x2="1690" y2="1206.4" stroke="#000" stroke-width="2.5" />
<polygon points="1680,1206.4 1690,1201.4 1690,1211.4" fill="#000" stroke="none" stroke-width="1" />
<text x="1540" y="1217" font-family='"Liberation Sans", "DejaVu Sans", sans-serif' font-size="22" fill="#000" font-weight="normal" text-anchor="start" textLength="87" lengthAdjust="spacingAndGlyphs" >1.0 meV</text>
<line x1="1414.5" y1="1025.7" x2="1399.3" y2="1040.1" stroke="#000" stroke-width="2.5" />
<polygon points="1392,1047 1395.8,1036.5 1402.7,1043.8" fill="#000" stroke="none" stroke-width="1" />
<line x1="1338.7" y1="1103.2" x2="1358.6" y2="1085.2" stroke="#000" stroke-width="2.5" />
<polygon points="1366,1078.5 1361.9,1088.9 1355.2,1081.5" fill="#000" stroke="none" stroke-width="1" />
<text x="1349.7" y="1055" font-family='"Liberation Sans", "DejaVu Sans", sans-serif' font-size="24.5" fill="#000" font-weight="normal" text-anchor="start" >0.2</text>
<text x="1369.5" y="1078" font-family='"Liberation Sans", "DejaVu Sans", sans-serif' font-size="24.5" fill="#000" font-weight="normal" text-anchor="start" >meV</text>
<text x="1.2" y="1316.3" font-family='"Liberation Serif", "DejaVu Serif", serif' font-size="64" fill="#000" font-weight="normal" text-anchor="start" >g</text>
<text x="104" y="1293" font-family='"Liberation Serif", "DejaVu Serif", serif' font-size="33" fill="#000" font-weight="normal" text-anchor="start" textLength="472" lengthAdjust="spacingAndGlyphs" >Topological Superconductivity</text>
<text x="124.4" y="1334" font-family='"Liberation Serif", "DejaVu Serif", serif' font-size="33" fill="#000" font-weight="normal" text-anchor="start" textLength="431" lengthAdjust="spacingAndGlyphs" >Helical Cooper pairing in TI</text>
<polygon points="86.9,1551.2 255.4,1426.5 480.4,1477.3 384.6,1653.9" fill="#c6c6c6" stroke="none" stroke-width="1" />
<ellipse cx="298.7" cy="1519" rx="101.5" ry="59.5" fill="#d8dcdc"/>
<path d="M212.1,1544.5 A97.5,55.5 0 0 0 385.3,1544.5 L300.4,1640 Z" fill="url(#gOut)"/>
<ellipse cx="298.7" cy="1519" rx="97.5" ry="55.5" fill="url(#gIn)"/>
<path d="M299.5,1643 L234.1,1710.8 A87,77 0 1 0 365.9,1710.8 Z" fill="url(#gLow)"/>
<path d="M208,1475 C238,1440 270,1392 310,1391 C352,1390 385,1455 410,1515" fill="none" stroke="#111" stroke-width="3" stroke-dasharray="9,6"/>
<line x1="293.5" y1="1528" x2="403.5" y2="1423.5" stroke="#000" stroke-width="3" />
<polygon points="410,1417.3 406.6,1426.8 400.4,1420.2" fill="#000" stroke="none" stroke-width="1" />
<line x1="293.5" y1="1528" x2="458.8" y2="1556.5" stroke="#000" stroke-width="3" />
<polygon points="467.7,1558 458.1,1560.9 459.6,1552" fill="#000" stroke="none" stroke-width="1" />
<text x="418" y="1437" font-family='"Liberation Sans", "DejaVu Sans", sans-serif' font-size="26" fill="#000" font-weight="normal" text-anchor="start" font-style="italic" >k<tspan font-size="15" dy="6">y</tspan></text>
<text x="455" y="1586" font-family='"Liberation Sans", "DejaVu Sans", sans-serif' font-size="26" fill="#000" font-weight="normal" text-anchor="start" font-style="italic" >k<tspan font-size="15" dy="6">x</tspan></text>
<line x1="187.3" y1="1526" x2="198.4" y2="1492.1" stroke="#7df12a" stroke-width="8" />
<polygon points="204,1475 209.8,1495.8 187,1488.4" fill="#7df12a" stroke="none" stroke-width="1" />
<line x1="408" y1="1518" x2="397.3" y2="1552.8" stroke="#7df12a" stroke-width="8" />
<polygon points="392,1570 385.8,1549.3 408.8,1556.3" fill="#7df12a" stroke="none" stroke-width="1" />
<text x="645.5" y="1312.1" font-family='"Liberation Serif", "DejaVu Serif", serif' font-size="64" fill="#000" font-weight="normal" text-anchor="start" >h</text>
<text x="736.7" y="1335" font-family='"Liberation Sans", "DejaVu Sans", sans-serif' font-size="26" fill="#000" font-weight="normal" text-anchor="start" textLength="186" lengthAdjust="spacingAndGlyphs" >Rashba 2DEG</text>
<polygon points="571.9,1681.2 726.2,1414.1 1061.5,1483.9 907.2,1750.9" fill="#d9d9d9" stroke="none" stroke-width="1" />
<path d="M657.9,1591.3 L658.4,1584.4 L659.6,1577.5 L661.8,1570.7 L664.7,1564 L668.5,1557.5 L673.1,1551.3 L678.5,1545.2 L684.6,1539.5 L691.3,1534 L698.8,1529 L706.8,1524.3 L715.4,1520 L724.5,1516.1 L734.1,1512.8 L744,1509.9 L754.3,1507.5 L764.8,1505.6 L775.6,1504.2 L786.4,1503.4 L797.4,1503.1 L808.3,1503.4 L819.2,1504.2 L829.9,1505.6 L840.5,1507.5 L850.8,1509.9 L860.7,1512.8 L870.3,1516.1 L879.4,1520 L888,1524.3 L896,1529 L903.4,1534 L910.2,1539.5 L916.3,1545.2 L921.7,1551.3 L926.2,1557.5 L930,1564 L933,1570.7 L935.1,1577.5 L936.4,1584.4 L936.9,1591.3 L935.4,1605.5 L928,1632.2 L914.6,1673.8 L898.3,1718.3 L883.4,1753.9 L868.6,1777.6 L852.3,1798.4 L837.4,1804.9 L821.1,1795.4 L806.3,1777.6 L796.5,1771.7 L785.5,1801.4 L769.2,1813.8 L752.9,1807.3 L735.1,1792.5 L712.8,1762.8 L695,1727.2 L680.2,1685.6 L668.3,1647.1 L660.9,1617.4 Z" fill="url(#hPurp)"/>
<g clip-path="url(#hSil)"><polygon points="571.9,1681.2 726.2,1414.1 1061.5,1483.9 907.2,1750.9" fill="#8276bc"/></g>
<path d="M658.3,1585.1 L659.4,1578.6 L661.3,1572.1 L663.9,1565.7 L667.4,1559.4 L671.5,1553.3 L676.4,1547.5 L681.9,1541.9 L688.1,1536.5 L694.9,1531.5 L702.3,1526.8 L710.2,1522.5 L718.6,1518.6 L727.4,1515 L736.7,1511.9 L746.3,1509.3 L756.1,1507.1 L766.3,1505.4 L776.5,1504.1 L786.9,1503.4 L797.4,1503.1 L807.8,1503.4 L818.2,1504.1 L828.5,1505.4 L838.6,1507.1 L848.5,1509.3 L858.1,1511.9 L867.3,1515 L876.2,1518.6 L884.6,1522.5 L892.5,1526.8 L899.9,1531.5 L906.7,1536.5 L912.9,1541.9 L918.4,1547.5 L923.3,1553.3 L927.4,1559.4 L930.8,1565.7 L933.5,1572.1 L935.4,1578.6 L936.5,1585.1 L930.9,1605.5 L923.5,1641.1 L898.3,1658.9 L893.8,1694.5 L884.9,1748 L862.7,1780.6 L837.4,1799.9 L818.2,1789.5 L806.3,1771.7 L798.9,1730.1 L794.4,1771.7 L778.1,1798.4 L764.7,1795.4 L749.9,1771.7 L741.6,1721.2 L739.5,1679.7 L699.5,1664.9 L675.7,1641.1 L663.9,1608.5 Z" fill="url(#hInG)"/>
<g clip-path="url(#hSil)"><path d="M560,1682 L910,1752 L910,1830 L560,1830 Z" fill="#000" fill-opacity="0.2"/></g>
<path d="M767.7,1587.7 L771.3,1605.5 L778.1,1629.3 L790,1651.5 L798.9,1656 L809.3,1647.1 L817.6,1623.3 L821.7,1599.6 L822.6,1587.7 L815.2,1581.8 L797.4,1578.8 L776.6,1581.8 Z" fill="#8c82c6"/>
<path d="M671.3,1540.2 C726.2,1492.8 767.7,1445.3 813.7,1445.9 C856.7,1446.8 901.2,1522.4 945.8,1596.6" fill="none" stroke="#111" stroke-width="3" stroke-dasharray="9,6"/>
<path d="M776.6,1555.1 C785.5,1504.6 800.4,1463.1 816.7,1463.1 C831.5,1464.6 838.9,1522.4 841.9,1569.9" fill="none" stroke="#111" stroke-width="3" stroke-dasharray="9,6"/>
<line x1="797.4" y1="1811.8" x2="797.4" y2="1569.1" stroke="#000" stroke-width="3" />
<polygon points="797.4,1555.1 803.4,1569.1 791.4,1569.1" fill="#000" stroke="none" stroke-width="1" />
<line x1="797.4" y1="1596.6" x2="892.5" y2="1396.5" stroke="#000" stroke-width="3" />
<polygon points="896.8,1387.4 897,1398.6 888,1394.3" fill="#000" stroke="none" stroke-width="1" />
<line x1="797.4" y1="1596.6" x2="1068" y2="1649.6" stroke="#000" stroke-width="3" />
<polygon points="1077.8,1651.5 1067,1654.5 1069,1644.7" fill="#000" stroke="none" stroke-width="1" />
<text x="769.2" y="1567.5" font-family='"Liberation Serif", "DejaVu Serif", serif' font-size="30" fill="#000" font-weight="normal" text-anchor="start" font-style="italic" >E</text>
<text x="904.2" y="1402.3" font-family='"Liberation Sans", "DejaVu Sans", sans-serif' font-size="26" fill="#000" font-weight="normal" text-anchor="start" font-style="italic" >k<tspan font-size="15" dy="6">y</tspan></text>
<text x="1049.6" y="1679.7" font-family='"Liberation Sans", "DejaVu Sans", sans-serif' font-size="26" fill="#000" font-weight="normal" text-anchor="start" font-style="italic" >k<tspan font-size="15" dy="6">x</tspan></text>
<line x1="649" y1="1593.6" x2="663.7" y2="1552.7" stroke="#7df12a" stroke-width="8" />
<polygon points="669.8,1535.8 675,1556.8 652.4,1548.7" fill="#7df12a" stroke="none" stroke-width="1" />
<line x1="764.7" y1="1555.1" x2="752.6" y2="1591.4" stroke="#7df12a" stroke-width="8" />
<polygon points="746.9,1608.5 741.3,1587.6 764,1595.2" fill="#7df12a" stroke="none" stroke-width="1" />
<line x1="819.6" y1="1626.3" x2="832" y2="1587.1" stroke="#7df12a" stroke-width="8" />
<polygon points="837.4,1569.9 843.5,1590.7 820.6,1583.5" fill="#7df12a" stroke="none" stroke-width="1" />
<line x1="943.4" y1="1599.6" x2="936.3" y2="1631" stroke="#7df12a" stroke-width="8" />
<polygon points="932.4,1648.5 924.6,1628.4 948.1,1633.6" fill="#7df12a" stroke="none" stroke-width="1" />
<text x="1110.8" y="1309.5" font-family='"Liberation Serif", "DejaVu Serif", serif' font-size="64" fill="#000" font-weight="normal" text-anchor="start" >i</text>
<rect x="1211" y="1400" width="558" height="336" fill="none" stroke="#888" stroke-width="2.5"/>
<line x1="1211" y1="1400" x2="1211" y2="1407" stroke="#888" stroke-width="2" />
<line x1="1211" y1="1729" x2="1211" y2="1736" stroke="#888" stroke-width="2" />
<text x="1213.8" y="1771" font-family='"Liberation Sans", "DejaVu Sans", sans-serif' font-size="31.5" fill="#000" font-weight="normal" text-anchor="middle" >-180</text>
<line x1="1303" y1="1400" x2="1303" y2="1407" stroke="#888" stroke-width="2" />
<line x1="1303" y1="1729" x2="1303" y2="1736" stroke="#888" stroke-width="2" />
<text x="1308.4" y="1771" font-family='"Liberation Sans", "DejaVu Sans", sans-serif' font-size="31.5" fill="#000" font-weight="normal" text-anchor="middle" >-120</text>
<line x1="1395" y1="1400" x2="1395" y2="1407" stroke="#888" stroke-width="2" />
<line x1="1395" y1="1729" x2="1395" y2="1736" stroke="#888" stroke-width="2" />
<text x="1395.9" y="1771" font-family='"Liberation Sans", "DejaVu Sans", sans-serif' font-size="31.5" fill="#000" font-weight="normal" text-anchor="middle" >-60</text>
<line x1="1487" y1="1400" x2="1487" y2="1407" stroke="#888" stroke-width="2" />
<line x1="1487" y1="1729" x2="1487" y2="1736" stroke="#888" stroke-width="2" />
<text x="1492.3" y="1771" font-family='"Liberation Sans", "DejaVu Sans", sans-serif' font-size="31.5" fill="#000" font-weight="normal" text-anchor="middle" >0</text>
<line x1="1579" y1="1400" x2="1579" y2="1407" stroke="#888" stroke-width="2" />
<line x1="1579" y1="1729" x2="1579" y2="1736" stroke="#888" stroke-width="2" />
<text x="1583.4" y="1771" font-family='"Liberation Sans", "DejaVu Sans", sans-serif' font-size="31.5" fill="#000" font-weight="normal" text-anchor="middle" >60</text>
<line x1="1671" y1="1400" x2="1671" y2="1407" stroke="#888" stroke-width="2" />
<line x1="1671" y1="1729" x2="1671" y2="1736" stroke="#888" stroke-width="2" />
<text x="1682.5" y="1771" font-family='"Liberation Sans", "DejaVu Sans", sans-serif' font-size="31.5" fill="#000" font-weight="normal" text-anchor="middle" >120</text>
<line x1="1763" y1="1400" x2="1763" y2="1407" stroke="#888" stroke-width="2" />
<line x1="1763" y1="1729" x2="1763" y2="1736" stroke="#888" stroke-width="2" />
<text x="1776.2" y="1771" font-family='"Liberation Sans", "DejaVu Sans", sans-serif' font-size="31.5" fill="#000" font-weight="normal" text-anchor="middle" >180</text>
<line x1="1211" y1="1424.5" x2="1218" y2="1424.5" stroke="#888" stroke-width="2" />
<line x1="1762" y1="1424.5" x2="1769" y2="1424.5" stroke="#888" stroke-width="2" />
<text x="1207.5" y="1435.5" font-family='"Liberation Sans", "DejaVu Sans", sans-serif' font-size="31" fill="#000" font-weight="normal" text-anchor="end" >0.1</text>
<line x1="1211" y1="1522" x2="1218" y2="1522" stroke="#888" stroke-width="2" />
<line x1="1762" y1="1522" x2="1769" y2="1522" stroke="#888" stroke-width="2" />
<text x="1207.5" y="1533" font-family='"Liberation Sans", "DejaVu Sans", sans-serif' font-size="31" fill="#000" font-weight="normal" text-anchor="end" >0.05</text>
<line x1="1211" y1="1619.5" x2="1218" y2="1619.5" stroke="#888" stroke-width="2" />
<line x1="1762" y1="1619.5" x2="1769" y2="1619.5" stroke="#888" stroke-width="2" />
<text x="1207.5" y="1630.5" font-family='"Liberation Sans", "DejaVu Sans", sans-serif' font-size="31" fill="#000" font-weight="normal" text-anchor="end" >0.0</text>
<line x1="1211" y1="1717" x2="1218" y2="1717" stroke="#888" stroke-width="2" />
<line x1="1762" y1="1717" x2="1769" y2="1717" stroke="#888" stroke-width="2" />
<text x="1207.5" y="1728" font-family='"Liberation Sans", "DejaVu Sans", sans-serif' font-size="31" fill="#000" font-weight="normal" text-anchor="end" >-0.05</text>
<text x="1335" y="1806" font-family='"Liberation Sans", "DejaVu Sans", sans-serif' font-size="29" fill="#000" font-weight="normal" text-anchor="start" textLength="324" lengthAdjust="spacingAndGlyphs" >Fermi surface angle (θ)</text>
<text x="1398.6" y="1457.6" font-family='"Liberation Sans", "DejaVu Sans", sans-serif' font-size="21" fill="#333" font-weight="normal" text-anchor="start" textLength="150" lengthAdjust="spacingAndGlyphs" >Helical pairing</text>
<polyline points="1211,1429.8 1212.5,1429.2 1214.1,1427.3 1215.6,1429.3 1217.1,1428.9 1218.7,1428.3 1220.2,1430 1221.7,1428.2 1223.3,1427.4 1224.8,1426.4 1226.3,1429.4 1227.9,1428.2 1229.4,1428.9 1230.9,1425.3 1232.5,1425.6 1234,1428.4 1235.5,1423.8 1237.1,1423.7 1238.6,1424.9 1240.1,1425 1241.7,1427 1243.2,1427.5 1244.7,1425 1246.3,1427.2 1247.8,1426.5 1249.3,1426.3 1250.9,1427.3 1252.4,1425.3 1253.9,1425.5 1255.5,1423.8 1257,1425.4 1258.5,1425 1260.1,1425.9 1261.6,1425.3 1263.1,1426.5 1264.7,1427.5 1266.2,1424.4 1267.7,1424.7 1269.3,1425.7 1270.8,1426.5 1272.3,1428.6 1273.9,1429.3 1275.4,1429.3 1276.9,1430.5 1278.5,1427.5 1280,1429.4 1281.5,1427.5 1283.1,1429.8 1284.6,1427.3 1286.1,1427.9 1287.7,1432 1289.2,1431.1 1290.7,1427.8 1292.3,1429.9 1293.8,1427.5 1295.3,1430.2 1296.9,1431.6 1298.4,1428.9 1299.9,1428.1 1301.5,1430.3 1303,1431 1304.5,1429.6 1306.1,1426.5 1307.6,1427.2 1309.1,1430 1310.7,1429.1 1312.2,1429.5 1313.7,1429.5 1315.3,1425.8 1316.8,1428.4 1318.3,1426.4 1319.9,1426.6 1321.4,1427.6 1322.9,1424.9 1324.5,1427.5 1326,1424.9 1327.5,1427.2 1329.1,1425.7 1330.6,1426.6 1332.1,1426.2 1333.7,1422.9 1335.2,1423.7 1336.7,1426 1338.3,1423.3 1339.8,1426.6 1341.3,1425.8 1342.9,1423.8 1344.4,1424.9 1345.9,1427.6 1347.5,1423.7 1349,1427.5 1350.5,1427.5 1352.1,1425.3 1353.6,1427.7 1355.1,1428.1 1356.7,1429.4 1358.2,1429.6 1359.7,1427.5 1361.3,1429.3 1362.8,1427.9 1364.3,1429.2 1365.9,1429.1 1367.4,1426.9 1368.9,1429.3 1370.5,1429 1372,1427.8 1373.5,1431.1 1375.1,1431.3 1376.6,1427.8 1378.1,1428.3 1379.7,1430.9 1381.2,1431.2 1382.7,1428.5 1384.3,1427.5 1385.8,1430.9 1387.3,1427.2 1388.9,1427.4 1390.4,1428.5 1391.9,1429.1 1393.5,1430.4 1395,1430.5 1396.5,1425.9 1398.1,1429 1399.6,1426.6 1401.1,1428.4 1402.7,1425.5 1404.2,1426.3 1405.7,1427.5 1407.3,1427.8 1408.8,1425 1410.3,1427.9 1411.9,1427 1413.4,1425.2 1414.9,1423.7 1416.5,1424.7 1418,1426.2 1419.5,1423.2 1421.1,1426.5 1422.6,1427.3 1424.1,1426.2 1425.7,1425.4 1427.2,1427.3 1428.7,1426.9 1430.3,1426.1 1431.8,1425.3 1433.3,1427.6 1434.9,1426.7 1436.4,1424.4 1437.9,1424.2 1439.5,1426 1441,1426.1 1442.5,1426.8 1444.1,1429.2 1445.6,1429.9 1447.1,1430.3 1448.7,1426.3 1450.2,1427.6 1451.7,1426.6 1453.3,1431.2 1454.8,1428.5 1456.3,1429.4 1457.9,1428.4 1459.4,1430.4 1460.9,1427.3 1462.5,1431.7 1464,1429.5 1465.5,1428.7 1467.1,1427.9 1468.6,1428.6 1470.1,1428.7 1471.7,1428.1 1473.2,1427.5 1474.7,1429.9 1476.3,1428.2 1477.8,1427 1479.3,1426.9 1480.9,1428.8 1482.4,1426.8 1483.9,1426.2 1485.5,1427.3 1487,1426.8 1488.5,1427.7 1490.1,1426.5 1491.6,1426.1 1493.1,1428.4 1494.7,1425.5 1496.2,1423.7 1497.7,1424 1499.3,1424.5 1500.8,1426 1502.3,1424.2 1503.9,1424.8 1505.4,1425.4 1506.9,1423.5 1508.5,1427 1510,1423.9 1511.5,1427.3 1513.1,1424.7 1514.6,1425.4 1516.1,1426.7 1517.7,1424.6 1519.2,1425.7 1520.7,1425.4 1522.3,1424.2 1523.8,1427.5 1525.3,1428.9 1526.9,1427.8 1528.4,1426.3 1529.9,1428.7 1531.5,1429.2 1533,1426 1534.5,1427.4 1536.1,1428.6 1537.6,1426.8 1539.1,1429.6 1540.7,1428.2 1542.2,1430.6 1543.7,1429.7 1545.3,1428.1 1546.8,1427.7 1548.3,1427.9 1549.9,1430.3 1551.4,1429.4 1552.9,1430.6 1554.5,1431.4 1556,1429.7 1557.5,1428 1559.1,1427.8 1560.6,1428.3 1562.1,1427.1 1563.7,1430 1565.2,1430.3 1566.7,1428.8 1568.3,1429.4 1569.8,1429.4 1571.3,1428.2 1572.9,1427 1574.4,1427.3 1575.9,1427.9 1577.5,1425.2 1579,1424.3 1580.5,1426.5 1582.1,1428.1 1583.6,1428.1 1585.1,1424 1586.7,1427.7 1588.2,1424.4 1589.7,1424.9 1591.3,1426.1 1592.8,1423.8 1594.3,1427.3 1595.9,1426.8 1597.4,1425.3 1598.9,1427.4 1600.5,1423.7 1602,1426.6 1603.5,1427.2 1605.1,1427.8 1606.6,1425.2 1608.1,1426.3 1609.7,1425.6 1611.2,1425.7 1612.7,1425.3 1614.3,1424.8 1615.8,1426.3 1617.3,1428.9 1618.9,1427.8 1620.4,1429.5 1621.9,1430.5 1623.5,1428.6 1625,1427.7 1626.5,1430.4 1628.1,1430.2 1629.6,1430 1631.1,1428.5 1632.7,1429.4 1634.2,1429.1 1635.7,1428.5 1637.3,1430.3 1638.8,1428.4 1640.3,1427.8 1641.9,1431.6 1643.4,1427.6 1644.9,1428.5 1646.5,1431.1 1648,1429.5 1649.5,1428.5 1651.1,1427 1652.6,1429.3 1654.1,1428.1 1655.7,1426.4 1657.2,1426.6 1658.7,1425.6 1660.3,1427.6 1661.8,1426.5 1663.3,1428.3 1664.9,1425.6 1666.4,1425 1667.9,1425.5 1669.5,1425 1671,1427.1 1672.5,1423.8 1674.1,1423.2 1675.6,1423.1 1677.1,1425.1 1678.7,1423.8 1680.2,1425.9 1681.7,1423.2 1683.3,1423.4 1684.8,1425.8 1686.3,1427.1 1687.9,1425.6 1689.4,1425.2 1690.9,1424.3 1692.5,1425.8 1694,1428.1 1695.5,1424.7 1697.1,1428.4 1698.6,1425.2 1700.1,1428.3 1701.7,1427.8 1703.2,1426 1704.7,1429.3 1706.3,1429.5 1707.8,1428 1709.3,1427.3 1710.9,1427 1712.4,1427.9 1713.9,1426.9 1715.5,1429.2 1717,1427.2 1718.5,1431.4 1720.1,1430.9 1721.6,1429.5 1723.1,1430.7 1724.7,1428.7 1726.2,1429.1 1727.7,1429.6 1729.3,1428.1 1730.8,1429.3 1732.3,1430.4 1733.9,1429.9 1735.4,1427.6 1736.9,1427.1 1738.5,1430.2 1740,1426.9 1741.5,1426.2 1743.1,1428 1744.6,1427.5 1746.1,1429 1747.7,1427.2 1749.2,1427.1 1750.7,1426.3 1752.3,1428.8 1753.8,1424.1 1755.3,1426 1756.9,1426.4 1758.4,1424.3 1759.9,1425.3 1761.5,1425.4 1763,1424.4" fill="none" stroke="#2a30f0" stroke-width="6" stroke-linejoin="round" stroke-linecap="round" />
<polyline points="1211,1494.7 1212.5,1493.2 1214.1,1493.6 1215.6,1491.9 1217.1,1492 1218.7,1494.1 1220.2,1493.4 1221.7,1494.5 1223.3,1493.5 1224.8,1492.3 1226.3,1492.1 1227.9,1493.4 1229.4,1493.9 1230.9,1494.3 1232.5,1493 1234,1492 1235.5,1494.5 1237.1,1492.5 1238.6,1494.8 1240.1,1494.3 1241.7,1494.2 1243.2,1492.8 1244.7,1493.9 1246.3,1493.8 1247.8,1493 1249.3,1494.6 1250.9,1492.6 1252.4,1494.5 1253.9,1493.3 1255.5,1494.1 1257,1494.3 1258.5,1493.2 1260.1,1493.5 1261.6,1493.7 1263.1,1493.6 1264.7,1493.2 1266.2,1494.4 1267.7,1494.3 1269.3,1492.9 1270.8,1492.9 1272.3,1493.2 1273.9,1492.2 1275.4,1493 1276.9,1492.2 1278.5,1494.2 1280,1492.6 1281.5,1492.4 1283.1,1492.1 1284.6,1493.9 1286.1,1493.9 1287.7,1492 1289.2,1494.2 1290.7,1491.8 1292.3,1492.1 1293.8,1494.5 1295.3,1494.1 1296.9,1492.6 1298.4,1494.1 1299.9,1494.6 1301.5,1492.3 1303,1493.6 1304.5,1492.4 1306.1,1494.5 1307.6,1493.6 1309.1,1492.8 1310.7,1494.8 1312.2,1494.3 1313.7,1492.8 1315.3,1492.1 1316.8,1491.9 1318.3,1494.5 1319.9,1493.3 1321.4,1492.5 1322.9,1493.3 1324.5,1492.8 1326,1494.3 1327.5,1494.7 1329.1,1494.6 1330.6,1494.8 1332.1,1493.2 1333.7,1493.3 1335.2,1493.1 1336.7,1494.4 1338.3,1494.3 1339.8,1494.3 1341.3,1492.3 1342.9,1491.8 1344.4,1492 1345.9,1494.6 1347.5,1494.7 1349,1491.9 1350.5,1493.5 1352.1,1492.5 1353.6,1493.9 1355.1,1493.4 1356.7,1493.3 1358.2,1493.6 1359.7,1493 1361.3,1494.9 1362.8,1492.7 1364.3,1492.3 1365.9,1494.3 1367.4,1493.5 1368.9,1492.6 1370.5,1493.6 1372,1494.3 1373.5,1494.4 1375.1,1493.3 1376.6,1494.8 1378.1,1492.1 1379.7,1492.4 1381.2,1492.7 1382.7,1492.2 1384.3,1492.9 1385.8,1493.6 1387.3,1493 1388.9,1493.3 1390.4,1491.8 1391.9,1492.4 1393.5,1494.1 1395,1492.1 1396.5,1492.6 1398.1,1492.5 1399.6,1492.4 1401.1,1493.6 1402.7,1492.1 1404.2,1492.1 1405.7,1492.7 1407.3,1492.5 1408.8,1492.5 1410.3,1493.6 1411.9,1492.6 1413.4,1494.7 1414.9,1493.8 1416.5,1493.4 1418,1494.9 1419.5,1493.8 1421.1,1492.9 1422.6,1492.9 1424.1,1494.2 1425.7,1491.9 1427.2,1492.8 1428.7,1493.8 1430.3,1492.8 1431.8,1493.1 1433.3,1493.2 1434.9,1493.7 1436.4,1491.8 1437.9,1492.9 1439.5,1492.7 1441,1492.5 1442.5,1491.8 1444.1,1494.8 1445.6,1493 1447.1,1492.6 1448.7,1494.1 1450.2,1493.6 1451.7,1494.7 1453.3,1494.3 1454.8,1493.7 1456.3,1494.6 1457.9,1494.1 1459.4,1492.1 1460.9,1493.2 1462.5,1493.3 1464,1491.9 1465.5,1493.1 1467.1,1491.8 1468.6,1492.9 1470.1,1492.4 1471.7,1494.7 1473.2,1493 1474.7,1492.5 1476.3,1494.8 1477.8,1492 1479.3,1494.4 1480.9,1493.4 1482.4,1494.4 1483.9,1493.3 1485.5,1493 1487,1494.7 1488.5,1491.9 1490.1,1493.6 1491.6,1493.3 1493.1,1493 1494.7,1493.8 1496.2,1494 1497.7,1492.9 1499.3,1493.1 1500.8,1494 1502.3,1492.7 1503.9,1494 1505.4,1494.9 1506.9,1494.1 1508.5,1494.8 1510,1494.4 1511.5,1492.5 1513.1,1493.7 1514.6,1492.1 1516.1,1492.6 1517.7,1494.7 1519.2,1491.8 1520.7,1491.9 1522.3,1494.7 1523.8,1492.1 1525.3,1493.6 1526.9,1493.4 1528.4,1491.9 1529.9,1494.1 1531.5,1493.3 1533,1492 1534.5,1492.6 1536.1,1493.4 1537.6,1491.8 1539.1,1492.3 1540.7,1493 1542.2,1494.5 1543.7,1492.9 1545.3,1493.5 1546.8,1494.3 1548.3,1494.7 1549.9,1493.2 1551.4,1494.5 1552.9,1493.5 1554.5,1492.8 1556,1493.5 1557.5,1494.1 1559.1,1493.1 1560.6,1493.6 1562.1,1492.5 1563.7,1493.2 1565.2,1491.8 1566.7,1491.9 1568.3,1492.6 1569.8,1494.2 1571.3,1494.5 1572.9,1492.1 1574.4,1492.4 1575.9,1492.9 1577.5,1493.8 1579,1494 1580.5,1492.8 1582.1,1493.1 1583.6,1493 1585.1,1492.9 1586.7,1492.5 1588.2,1494.3 1589.7,1494.1 1591.3,1491.8 1592.8,1492 1594.3,1492.2 1595.9,1494.8 1597.4,1494.7 1598.9,1494 1600.5,1493.6 1602,1493 1603.5,1494.6 1605.1,1493.2 1606.6,1494.7 1608.1,1494.6 1609.7,1492.8 1611.2,1493.2 1612.7,1492.9 1614.3,1493.7 1615.8,1493.4 1617.3,1494.2 1618.9,1493.8 1620.4,1492.6 1621.9,1492.3 1623.5,1494.7 1625,1494.5 1626.5,1492.4 1628.1,1492.9 1629.6,1492.5 1631.1,1494.2 1632.7,1493.6 1634.2,1494.1 1635.7,1492.4 1637.3,1493.7 1638.8,1492.9 1640.3,1491.8 1641.9,1493.9 1643.4,1493.2 1644.9,1492.6 1646.5,1492 1648,1493.6 1649.5,1493.7 1651.1,1494.6 1652.6,1492.2 1654.1,1494.7 1655.7,1494.6 1657.2,1493.1 1658.7,1493.4 1660.3,1492.8 1661.8,1494 1663.3,1492.5 1664.9,1494.7 1666.4,1494.2 1667.9,1492.8 1669.5,1494.6 1671,1493.9 1672.5,1492.6 1674.1,1492.7 1675.6,1494 1677.1,1494.4 1678.7,1493.8 1680.2,1492.6 1681.7,1493.8 1683.3,1494.5 1684.8,1492.7 1686.3,1493.1 1687.9,1492 1689.4,1492 1690.9,1492 1692.5,1493.5 1694,1492.4 1695.5,1493.9 1697.1,1493.9 1698.6,1493.6 1700.1,1492 1701.7,1492.1 1703.2,1494.1 1704.7,1493.8 1706.3,1493.8 1707.8,1493.8 1709.3,1493.7 1710.9,1493.7 1712.4,1494.3 1713.9,1493.1 1715.5,1492.4 1717,1493.2 1718.5,1492.3 1720.1,1493.1 1721.6,1494.3 1723.1,1492.5 1724.7,1492.1 1726.2,1494 1727.7,1494.8 1729.3,1493.3 1730.8,1493.2 1732.3,1493.1 1733.9,1491.9 1735.4,1492.9 1736.9,1492.4 1738.5,1494.7 1740,1493.2 1741.5,1492.4 1743.1,1494.6 1744.6,1494.6 1746.1,1492.6 1747.7,1492.1 1749.2,1494.6 1750.7,1492.9 1752.3,1494.4 1753.8,1492.6 1755.3,1492.9 1756.9,1494.1 1758.4,1494.2 1759.9,1492.5 1761.5,1493.3 1763,1492.5" fill="none" stroke="#3a8a12" stroke-width="6.5" stroke-linejoin="round" stroke-linecap="round" />
<g fill="#d42a1a"><rect x="1208.5" y="1522.7" width="5" height="5"/><rect x="1211.9" y="1522.9" width="5" height="5"/><rect x="1215.2" y="1521.6" width="5" height="5"/><rect x="1218.6" y="1522.6" width="5" height="5"/><rect x="1222" y="1523.6" width="5" height="5"/><rect x="1225.4" y="1524.1" width="5" height="5"/><rect x="1228.7" y="1524.4" width="5" height="5"/><rect x="1232.1" y="1525.3" width="5" height="5"/><rect x="1235.5" y="1525.9" width="5" height="5"/><rect x="1238.9" y="1528.2" width="5" height="5"/><rect x="1242.2" y="1528.5" width="5" height="5"/><rect x="1245.6" y="1530.3" width="5" height="5"/><rect x="1249" y="1531.5" width="5" height="5"/><rect x="1252.4" y="1533.2" width="5" height="5"/><rect x="1255.7" y="1535" width="5" height="5"/><rect x="1259.1" y="1536.8" width="5" height="5"/><rect x="1262.5" y="1538.6" width="5" height="5"/><rect x="1265.8" y="1541.5" width="5" height="5"/><rect x="1269.2" y="1544.1" width="5" height="5"/><rect x="1272.6" y="1546" width="5" height="5"/><rect x="1276" y="1548.3" width="5" height="5"/><rect x="1279.3" y="1551.7" width="5" height="5"/><rect x="1282.7" y="1554.4" width="5" height="5"/><rect x="1286.1" y="1557.8" width="5" height="5"/><rect x="1289.5" y="1559.3" width="5" height="5"/><rect x="1292.8" y="1561.6" width="5" height="5"/><rect x="1296.2" y="1566.1" width="5" height="5"/><rect x="1299.6" y="1569.6" width="5" height="5"/><rect x="1303" y="1572.7" width="5" height="5"/><rect x="1306.3" y="1575.4" width="5" height="5"/><rect x="1309.7" y="1579" width="5" height="5"/><rect x="1313.1" y="1580.8" width="5" height="5"/><rect x="1316.4" y="1586.3" width="5" height="5"/><rect x="1319.8" y="1589.2" width="5" height="5"/><rect x="1323.2" y="1593.1" width="5" height="5"/><rect x="1326.6" y="1595.4" width="5" height="5"/><rect x="1329.9" y="1598.6" width="5" height="5"/><rect x="1333.3" y="1603.6" width="5" height="5"/><rect x="1336.7" y="1607.5" width="5" height="5"/><rect x="1340.1" y="1610.2" width="5" height="5"/><rect x="1343.4" y="1613.5" width="5" height="5"/><rect x="1346.8" y="1616.4" width="5" height="5"/><rect x="1350.2" y="1622" width="5" height="5"/><rect x="1353.6" y="1625.5" width="5" height="5"/><rect x="1356.9" y="1628.9" width="5" height="5"/><rect x="1360.3" y="1632.5" width="5" height="5"/><rect x="1363.7" y="1636" width="5" height="5"/><rect x="1367" y="1638.4" width="5" height="5"/><rect x="1370.4" y="1642.2" width="5" height="5"/><rect x="1373.8" y="1646.6" width="5" height="5"/><rect x="1377.2" y="1650.1" width="5" height="5"/><rect x="1380.5" y="1653.2" width="5" height="5"/><rect x="1383.9" y="1656.8" width="5" height="5"/><rect x="1387.3" y="1658.7" width="5" height="5"/><rect x="1390.7" y="1663" width="5" height="5"/><rect x="1394" y="1665.6" width="5" height="5"/><rect x="1397.4" y="1668" width="5" height="5"/><rect x="1400.8" y="1671.8" width="5" height="5"/><rect x="1404.2" y="1675.3" width="5" height="5"/><rect x="1407.5" y="1676.6" width="5" height="5"/><rect x="1410.9" y="1679.3" width="5" height="5"/><rect x="1414.3" y="1683.3" width="5" height="5"/><rect x="1417.6" y="1685.4" width="5" height="5"/><rect x="1421" y="1686.9" width="5" height="5"/><rect x="1424.4" y="1690.3" width="5" height="5"/><rect x="1427.8" y="1693.2" width="5" height="5"/><rect x="1431.1" y="1695.7" width="5" height="5"/><rect x="1434.5" y="1695.6" width="5" height="5"/><rect x="1437.9" y="1697.9" width="5" height="5"/><rect x="1441.3" y="1700.6" width="5" height="5"/><rect x="1444.6" y="1701.9" width="5" height="5"/><rect x="1448" y="1703.5" width="5" height="5"/><rect x="1451.4" y="1705.5" width="5" height="5"/><rect x="1454.8" y="1705.1" width="5" height="5"/><rect x="1458.1" y="1707" width="5" height="5"/><rect x="1461.5" y="1709" width="5" height="5"/><rect x="1464.9" y="1710.4" width="5" height="5"/><rect x="1468.2" y="1710" width="5" height="5"/><rect x="1471.6" y="1710.9" width="5" height="5"/><rect x="1475" y="1710.3" width="5" height="5"/><rect x="1478.4" y="1710.8" width="5" height="5"/><rect x="1481.7" y="1711.3" width="5" height="5"/><rect x="1485.1" y="1712.4" width="5" height="5"/><rect x="1488.5" y="1712.3" width="5" height="5"/><rect x="1491.9" y="1711.7" width="5" height="5"/><rect x="1495.2" y="1711.4" width="5" height="5"/><rect x="1498.6" y="1709.5" width="5" height="5"/><rect x="1502" y="1709.7" width="5" height="5"/><rect x="1505.4" y="1708.6" width="5" height="5"/><rect x="1508.7" y="1706.8" width="5" height="5"/><rect x="1512.1" y="1707.5" width="5" height="5"/><rect x="1515.5" y="1705.7" width="5" height="5"/><rect x="1518.8" y="1705.3" width="5" height="5"/><rect x="1522.2" y="1702.4" width="5" height="5"/><rect x="1525.6" y="1702.6" width="5" height="5"/><rect x="1529" y="1699" width="5" height="5"/><rect x="1532.3" y="1697.1" width="5" height="5"/><rect x="1535.7" y="1695.2" width="5" height="5"/><rect x="1539.1" y="1694.9" width="5" height="5"/><rect x="1542.5" y="1692.3" width="5" height="5"/><rect x="1545.8" y="1688.9" width="5" height="5"/><rect x="1549.2" y="1688" width="5" height="5"/><rect x="1552.6" y="1684.6" width="5" height="5"/><rect x="1556" y="1682.1" width="5" height="5"/><rect x="1559.3" y="1678.2" width="5" height="5"/><rect x="1562.7" y="1676.3" width="5" height="5"/><rect x="1566.1" y="1672.8" width="5" height="5"/><rect x="1569.4" y="1671.2" width="5" height="5"/><rect x="1572.8" y="1667" width="5" height="5"/><rect x="1576.2" y="1664.8" width="5" height="5"/><rect x="1579.6" y="1660.4" width="5" height="5"/><rect x="1582.9" y="1659.1" width="5" height="5"/><rect x="1586.3" y="1654.1" width="5" height="5"/><rect x="1589.7" y="1652.2" width="5" height="5"/><rect x="1593.1" y="1648" width="5" height="5"/><rect x="1596.4" y="1644.6" width="5" height="5"/><rect x="1599.8" y="1642" width="5" height="5"/><rect x="1603.2" y="1636.9" width="5" height="5"/><rect x="1606.6" y="1634.5" width="5" height="5"/><rect x="1609.9" y="1630.9" width="5" height="5"/><rect x="1613.3" y="1627.9" width="5" height="5"/><rect x="1616.7" y="1623.7" width="5" height="5"/><rect x="1620" y="1619.7" width="5" height="5"/><rect x="1623.4" y="1615.5" width="5" height="5"/><rect x="1626.8" y="1612.7" width="5" height="5"/><rect x="1630.2" y="1608.3" width="5" height="5"/><rect x="1633.5" y="1606.1" width="5" height="5"/><rect x="1636.9" y="1601.8" width="5" height="5"/><rect x="1640.3" y="1598.1" width="5" height="5"/><rect x="1643.7" y="1593.3" width="5" height="5"/><rect x="1647" y="1590.2" width="5" height="5"/><rect x="1650.4" y="1587.1" width="5" height="5"/><rect x="1653.8" y="1585.2" width="5" height="5"/><rect x="1657.2" y="1580.9" width="5" height="5"/><rect x="1660.5" y="1576.8" width="5" height="5"/><rect x="1663.9" y="1574.7" width="5" height="5"/><rect x="1667.3" y="1570.7" width="5" height="5"/><rect x="1670.6" y="1567.8" width="5" height="5"/><rect x="1674" y="1565.8" width="5" height="5"/><rect x="1677.4" y="1560.5" width="5" height="5"/><rect x="1680.8" y="1558.1" width="5" height="5"/><rect x="1684.1" y="1556.6" width="5" height="5"/><rect x="1687.5" y="1553" width="5" height="5"/><rect x="1690.9" y="1551.1" width="5" height="5"/><rect x="1694.3" y="1548.3" width="5" height="5"/><rect x="1697.6" y="1545.5" width="5" height="5"/><rect x="1701" y="1543.8" width="5" height="5"/><rect x="1704.4" y="1541.5" width="5" height="5"/><rect x="1707.8" y="1539.2" width="5" height="5"/><rect x="1711.1" y="1536.6" width="5" height="5"/><rect x="1714.5" y="1535.7" width="5" height="5"/><rect x="1717.9" y="1534" width="5" height="5"/><rect x="1721.2" y="1531.2" width="5" height="5"/><rect x="1724.6" y="1530.6" width="5" height="5"/><rect x="1728" y="1527.8" width="5" height="5"/><rect x="1731.4" y="1527.4" width="5" height="5"/><rect x="1734.7" y="1525.9" width="5" height="5"/><rect x="1738.1" y="1525.9" width="5" height="5"/><rect x="1741.5" y="1523.9" width="5" height="5"/><rect x="1744.9" y="1524.9" width="5" height="5"/><rect x="1748.2" y="1524.2" width="5" height="5"/><rect x="1751.6" y="1523.9" width="5" height="5"/><rect x="1755" y="1522.2" width="5" height="5"/><rect x="1758.4" y="1522" width="5" height="5"/></g>
<g fill="#5cc8c8"><rect x="1208.5" y="1617.7" width="5" height="5"/><rect x="1211.9" y="1613.6" width="5" height="5"/><rect x="1215.2" y="1609" width="5" height="5"/><rect x="1218.6" y="1605.9" width="5" height="5"/><rect x="1222" y="1603.5" width="5" height="5"/><rect x="1225.4" y="1599.6" width="5" height="5"/><rect x="1228.7" y="1596.2" width="5" height="5"/><rect x="1232.1" y="1592.8" width="5" height="5"/><rect x="1235.5" y="1588.6" width="5" height="5"/><rect x="1238.9" y="1586" width="5" height="5"/><rect x="1242.2" y="1580.6" width="5" height="5"/><rect x="1245.6" y="1578.4" width="5" height="5"/><rect x="1249" y="1574.9" width="5" height="5"/><rect x="1252.4" y="1571.4" width="5" height="5"/><rect x="1255.7" y="1567.9" width="5" height="5"/><rect x="1259.1" y="1564.7" width="5" height="5"/><rect x="1262.5" y="1562.8" width="5" height="5"/><rect x="1265.8" y="1560" width="5" height="5"/><rect x="1269.2" y="1556.9" width="5" height="5"/><rect x="1272.6" y="1555.1" width="5" height="5"/><rect x="1276" y="1551.5" width="5" height="5"/><rect x="1279.3" y="1548.3" width="5" height="5"/><rect x="1282.7" y="1545.1" width="5" height="5"/><rect x="1286.1" y="1543.2" width="5" height="5"/><rect x="1289.5" y="1541.3" width="5" height="5"/><rect x="1292.8" y="1539.3" width="5" height="5"/><rect x="1296.2" y="1538.6" width="5" height="5"/><rect x="1299.6" y="1536" width="5" height="5"/><rect x="1303" y="1534.2" width="5" height="5"/><rect x="1306.3" y="1531.8" width="5" height="5"/><rect x="1309.7" y="1531.5" width="5" height="5"/><rect x="1313.1" y="1529.5" width="5" height="5"/><rect x="1316.4" y="1527.9" width="5" height="5"/><rect x="1319.8" y="1526.1" width="5" height="5"/><rect x="1323.2" y="1525" width="5" height="5"/><rect x="1326.6" y="1524.6" width="5" height="5"/><rect x="1329.9" y="1524.9" width="5" height="5"/><rect x="1333.3" y="1522.9" width="5" height="5"/><rect x="1336.7" y="1522.1" width="5" height="5"/><rect x="1340.1" y="1522.6" width="5" height="5"/><rect x="1343.4" y="1522.8" width="5" height="5"/><rect x="1346.8" y="1522.4" width="5" height="5"/><rect x="1350.2" y="1523.3" width="5" height="5"/><rect x="1353.6" y="1522.2" width="5" height="5"/><rect x="1356.9" y="1522" width="5" height="5"/><rect x="1360.3" y="1523.6" width="5" height="5"/><rect x="1363.7" y="1523.7" width="5" height="5"/><rect x="1367" y="1524.2" width="5" height="5"/><rect x="1370.4" y="1526.6" width="5" height="5"/><rect x="1373.8" y="1525.9" width="5" height="5"/><rect x="1377.2" y="1527.8" width="5" height="5"/><rect x="1380.5" y="1530.1" width="5" height="5"/><rect x="1383.9" y="1531.8" width="5" height="5"/><rect x="1387.3" y="1533" width="5" height="5"/><rect x="1390.7" y="1533.9" width="5" height="5"/><rect x="1394" y="1535.5" width="5" height="5"/><rect x="1397.4" y="1538.3" width="5" height="5"/><rect x="1400.8" y="1538.9" width="5" height="5"/><rect x="1404.2" y="1542.4" width="5" height="5"/><rect x="1407.5" y="1544.4" width="5" height="5"/><rect x="1410.9" y="1547.6" width="5" height="5"/><rect x="1414.3" y="1548.1" width="5" height="5"/><rect x="1417.6" y="1552.6" width="5" height="5"/><rect x="1421" y="1553.5" width="5" height="5"/><rect x="1424.4" y="1557.1" width="5" height="5"/><rect x="1427.8" y="1559.9" width="5" height="5"/><rect x="1431.1" y="1562.9" width="5" height="5"/><rect x="1434.5" y="1566.6" width="5" height="5"/><rect x="1437.9" y="1568.2" width="5" height="5"/><rect x="1441.3" y="1571.2" width="5" height="5"/><rect x="1444.6" y="1574.8" width="5" height="5"/><rect x="1448" y="1578.6" width="5" height="5"/><rect x="1451.4" y="1583.1" width="5" height="5"/><rect x="1454.8" y="1584.8" width="5" height="5"/><rect x="1458.1" y="1589.5" width="5" height="5"/><rect x="1461.5" y="1591.6" width="5" height="5"/><rect x="1464.9" y="1596.7" width="5" height="5"/><rect x="1468.2" y="1599.4" width="5" height="5"/><rect x="1471.6" y="1602.4" width="5" height="5"/><rect x="1475" y="1607.5" width="5" height="5"/><rect x="1478.4" y="1610.3" width="5" height="5"/><rect x="1481.7" y="1615" width="5" height="5"/><rect x="1485.1" y="1618.8" width="5" height="5"/><rect x="1488.5" y="1622" width="5" height="5"/><rect x="1491.9" y="1623.8" width="5" height="5"/><rect x="1495.2" y="1627.5" width="5" height="5"/><rect x="1498.6" y="1631.8" width="5" height="5"/><rect x="1502" y="1636.1" width="5" height="5"/><rect x="1505.4" y="1638.8" width="5" height="5"/><rect x="1508.7" y="1642.2" width="5" height="5"/><rect x="1512.1" y="1646.5" width="5" height="5"/><rect x="1515.5" y="1649.4" width="5" height="5"/><rect x="1518.8" y="1652.3" width="5" height="5"/><rect x="1522.2" y="1657.5" width="5" height="5"/><rect x="1525.6" y="1660.3" width="5" height="5"/><rect x="1529" y="1662.9" width="5" height="5"/><rect x="1532.3" y="1666.8" width="5" height="5"/><rect x="1535.7" y="1669.3" width="5" height="5"/><rect x="1539.1" y="1671.9" width="5" height="5"/><rect x="1542.5" y="1675.7" width="5" height="5"/><rect x="1545.8" y="1677.7" width="5" height="5"/><rect x="1549.2" y="1681.1" width="5" height="5"/><rect x="1552.6" y="1683" width="5" height="5"/><rect x="1556" y="1686.1" width="5" height="5"/><rect x="1559.3" y="1687.8" width="5" height="5"/><rect x="1562.7" y="1691.6" width="5" height="5"/><rect x="1566.1" y="1692.3" width="5" height="5"/><rect x="1569.4" y="1695.7" width="5" height="5"/><rect x="1572.8" y="1695.8" width="5" height="5"/><rect x="1576.2" y="1698.5" width="5" height="5"/><rect x="1579.6" y="1700.6" width="5" height="5"/><rect x="1582.9" y="1702.4" width="5" height="5"/><rect x="1586.3" y="1703.4" width="5" height="5"/><rect x="1589.7" y="1704.6" width="5" height="5"/><rect x="1593.1" y="1705.7" width="5" height="5"/><rect x="1596.4" y="1706.9" width="5" height="5"/><rect x="1599.8" y="1708.5" width="5" height="5"/><rect x="1603.2" y="1708.1" width="5" height="5"/><rect x="1606.6" y="1709.2" width="5" height="5"/><rect x="1609.9" y="1709.8" width="5" height="5"/><rect x="1613.3" y="1711.3" width="5" height="5"/><rect x="1616.7" y="1711.5" width="5" height="5"/><rect x="1620" y="1711.4" width="5" height="5"/><rect x="1623.4" y="1710.6" width="5" height="5"/><rect x="1626.8" y="1711.4" width="5" height="5"/><rect x="1630.2" y="1711.2" width="5" height="5"/><rect x="1633.5" y="1711" width="5" height="5"/><rect x="1636.9" y="1709.4" width="5" height="5"/><rect x="1640.3" y="1710.1" width="5" height="5"/><rect x="1643.7" y="1709.9" width="5" height="5"/><rect x="1647" y="1707.4" width="5" height="5"/><rect x="1650.4" y="1705.9" width="5" height="5"/><rect x="1653.8" y="1705.1" width="5" height="5"/><rect x="1657.2" y="1704.1" width="5" height="5"/><rect x="1660.5" y="1702.3" width="5" height="5"/><rect x="1663.9" y="1701.7" width="5" height="5"/><rect x="1667.3" y="1699.3" width="5" height="5"/><rect x="1670.6" y="1698.7" width="5" height="5"/><rect x="1674" y="1696.7" width="5" height="5"/><rect x="1677.4" y="1693.8" width="5" height="5"/><rect x="1680.8" y="1691.5" width="5" height="5"/><rect x="1684.1" y="1689.5" width="5" height="5"/><rect x="1687.5" y="1687.9" width="5" height="5"/><rect x="1690.9" y="1683.9" width="5" height="5"/><rect x="1694.3" y="1681.7" width="5" height="5"/><rect x="1697.6" y="1679.7" width="5" height="5"/><rect x="1701" y="1676.7" width="5" height="5"/><rect x="1704.4" y="1673.6" width="5" height="5"/><rect x="1707.8" y="1671" width="5" height="5"/><rect x="1711.1" y="1668.4" width="5" height="5"/><rect x="1714.5" y="1663.3" width="5" height="5"/><rect x="1717.9" y="1660" width="5" height="5"/><rect x="1721.2" y="1657.5" width="5" height="5"/><rect x="1724.6" y="1653.7" width="5" height="5"/><rect x="1728" y="1651.4" width="5" height="5"/><rect x="1731.4" y="1647.1" width="5" height="5"/><rect x="1734.7" y="1645" width="5" height="5"/><rect x="1738.1" y="1640.3" width="5" height="5"/><rect x="1741.5" y="1637.2" width="5" height="5"/><rect x="1744.9" y="1632.8" width="5" height="5"/><rect x="1748.2" y="1631.1" width="5" height="5"/><rect x="1751.6" y="1625.9" width="5" height="5"/><rect x="1755" y="1623.8" width="5" height="5"/><rect x="1758.4" y="1619.2" width="5" height="5"/></g>
<rect x="1650.5" y="1550.5" width="115" height="189.5" fill="#fff" stroke="#555" stroke-width="2"/>
<circle cx="1662.6" cy="1579.3" r="4" fill="#3a4af0"/>
<rect x="1659" y="1619.6" width="7.2" height="7.2" transform="rotate(45 1662.6 1623.2)" fill="#3a8a12"/>
<rect x="1659" y="1673.9" width="7.2" height="7.2" transform="rotate(45 1662.6 1677.5)" fill="#d42a1a"/>
<rect x="1659" y="1718.7" width="7.2" height="7.2" transform="rotate(45 1662.6 1722.3)" fill="#5cc8c8"/>
<text x="1674.5" y="1586.6" font-family='"Liberation Sans", "DejaVu Sans", sans-serif' font-size="27" fill="#000" font-weight="normal" text-anchor="start" >Δ</text>
<text x="1683.5" y="1568.3" text-anchor="middle" font-family='"Liberation Sans", sans-serif' font-size="22">~</text>
<text x="1693.3" y="1595" font-family='"Liberation Sans", "DejaVu Sans", sans-serif' font-size="19" fill="#000" font-weight="normal" text-anchor="start" textLength="44" lengthAdjust="spacingAndGlyphs" >total</text>
<text x="1674.5" y="1632.6" font-family='"Liberation Sans", "DejaVu Sans", sans-serif' font-size="27" fill="#000" font-weight="normal" text-anchor="start" >Δ</text>
<text x="1683.5" y="1614.3" text-anchor="middle" font-family='"Liberation Sans", sans-serif' font-size="22">~</text>
<text x="1693" y="1642" font-family='"Liberation Sans", "DejaVu Sans", sans-serif' font-size="20" fill="#000" font-weight="normal" text-anchor="start" font-style="italic" >S</text>
<text x="1674.5" y="1685.8" font-family='"Liberation Sans", "DejaVu Sans", sans-serif' font-size="27" fill="#000" font-weight="normal" text-anchor="start" textLength="63" lengthAdjust="spacingAndGlyphs" >Re(Δ</text>
<text x="1728.5" y="1667.3" text-anchor="middle" font-family='"Liberation Sans", sans-serif' font-size="22">~</text>
<text x="1738" y="1692" font-family='"Liberation Sans", "DejaVu Sans", sans-serif' font-size="18" fill="#000" font-weight="normal" text-anchor="start" font-style="italic" >T</text>
<text x="1748.5" y="1685.8" font-family='"Liberation Sans", "DejaVu Sans", sans-serif' font-size="27" fill="#000" font-weight="normal" text-anchor="start" >)</text>
<text x="1674.5" y="1730.7" font-family='"Liberation Sans", "DejaVu Sans", sans-serif' font-size="27" fill="#000" font-weight="normal" text-anchor="start" textLength="61" lengthAdjust="spacingAndGlyphs" >Im(Δ</text>
<text x="1726.5" y="1712.3" text-anchor="middle" font-family='"Liberation Sans", sans-serif' font-size="22">~</text>
<text x="1736" y="1737" font-family='"Liberation Sans", "DejaVu Sans", sans-serif' font-size="18" fill="#000" font-weight="normal" text-anchor="start" font-style="italic" >T</text>
<text x="1746.5" y="1730.7" font-family='"Liberation Sans", "DejaVu Sans", sans-serif' font-size="27" fill="#000" font-weight="normal" text-anchor="start" >)</text>
<g transform="translate(1130.5,1707.6) rotate(-90)" font-family='"Liberation Sans", sans-serif'><text x="0" y="0" font-size="27" >Δ</text><text x="9" y="-21" font-size="22" text-anchor="middle">~</text><text x="18.5" y="6" font-size="19" font-style="italic">S,</text><text x="48.6" y="0" font-size="27" >Δ</text><text x="57.6" y="-21" font-size="22" text-anchor="middle">~</text><text x="67" y="6" font-size="19" font-style="italic">T,</text><text x="92" y="0" font-size="27" >Δ</text><text x="101" y="-21" font-size="22" text-anchor="middle">~</text><text x="111" y="6" font-size="19" textLength="46" lengthAdjust="spacingAndGlyphs">total</text><text x="161.6" y="0" font-size="30" textLength="129" lengthAdjust="spacingAndGlyphs">(unitless)</text></g></svg></body></html>
